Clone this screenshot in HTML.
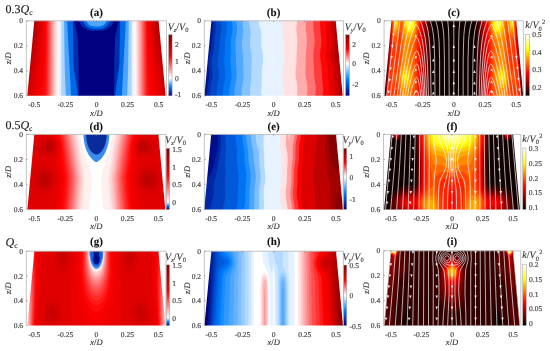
<!DOCTYPE html>
<html><head><meta charset="utf-8"><style>
html,body{margin:0;padding:0;background:#fff;width:550px;height:351px;overflow:hidden}
svg{display:block}
text{font-family:"Liberation Serif","Times New Roman",serif;text-rendering:geometricPrecision}
.t{fill:#474747;stroke:#474747;stroke-width:0.18px}
.l{fill:#333;stroke:#333;stroke-width:0.12px}
.p{fill:#111;stroke:#111;stroke-width:0.1px}
.r{fill:#222;stroke:#222;stroke-width:0.15px}
</style></head><body>
<svg width="550" height="351" viewBox="0 0 550 351">
<clipPath id="cla"><path d="M34.3,20.8 158.6,20.8 165.6,95.8 27.3,95.8 Z"/></clipPath>
<mask id="mcla" maskUnits="userSpaceOnUse" x="0" y="0" width="550" height="351"><path fill="#fff" d="M34.3,20.8 158.6,20.8 165.6,95.8 27.3,95.8 Z"/></mask>
<g mask="url(#mcla)">
<rect x="25.3" y="19.8" width="142.2" height="77" fill="#000080"/>
<path fill-rule="evenodd" fill="#002dac" d="M25.3,19.8 73.8,19.8 73.8,21 75.5,26.8 77.8,36.8 78.5,59.8 78.8,96.8 25.3,96.8 25.3,19.8ZM79.5,19.8 113.4,19.8 113.5,21.3 113,23.3 111.8,25.3 109.3,27.6 106.8,29.2 104.3,30.2 101.3,30.8 98.8,31.1 93.8,31.1 90.8,30.7 88.3,30.1 85.8,29 83.3,27.4 81.5,25.8 80.1,23.8 79.5,21.8 79.5,19.8ZM118.9,19.8 167.3,19.8 167.3,96.8 114,96.8 114.6,51.8 115,39.3 115.3,35.8 117.5,26.3 118.8,21.8 118.9,19.8Z"/>
<path fill-rule="evenodd" fill="#0069e8" d="M25.3,19.8 72.8,19.8 73.2,49.8 73.8,67.9 76.2,83.3 77.7,94.8 77.8,96.8 25.3,96.8 25.3,19.8ZM83.5,19.8 109.4,19.8 109.5,21.3 109,23.3 108.1,24.8 106.6,26.3 104.8,27.5 102.8,28.4 100.3,29 98.3,29.1 94.3,29.1 91.8,28.8 89.8,28.3 87.8,27.3 86.3,26.3 84.8,24.8 83.9,23.3 83.5,21.8 83.5,19.8ZM120.2,19.8 167.3,19.8 167.3,96.8 115.3,96.8 115.3,94 115.9,89.3 117.3,78.9 118.8,69.6 119.3,64.6 120.2,19.8Z"/>
<path fill-rule="evenodd" fill="#4ba5ff" d="M25.3,19.8 67.1,19.8 71.1,96.8 25.3,96.8 25.3,19.8ZM86.8,20.3 86.8,19.8 106.1,19.8 106.2,20.8 105.9,22.3 105,23.8 103.8,24.9 102.3,25.8 100.8,26.3 99.3,26.5 96.3,26.4 94.3,26.5 91.3,26 89.8,25.4 88.8,24.7 87.9,23.8 87.2,22.8 86.8,21.6 86.8,20.3ZM125.9,19.8 167.3,19.8 167.3,96.8 121.8,96.8 125.9,19.8Z"/>
<path fill-rule="evenodd" fill="#abd5ff" d="M25.3,19.8 64.1,19.8 64.7,67.3 65.7,96.8 25.3,96.8 25.3,19.8ZM128.8,19.8 167.3,19.8 167.3,96.8 127.2,96.8 128.2,66.3 128.8,19.8Z"/>
<path fill-rule="evenodd" fill="#e7f3ff" d="M25.3,19.8 61.4,19.8 61.1,96.8 25.3,96.8 25.3,19.8ZM131.5,19.8 167.3,19.8 167.3,96.8 131.8,96.8 131.5,19.8Z"/>
<path fill-rule="evenodd" fill="#fff5f5" d="M25.3,19.8 59.6,19.8 59.1,96.8 25.3,96.8 25.3,19.8ZM133.3,19.8 167.3,19.8 167.3,96.8 133.8,96.8 133.3,19.8Z"/>
<path fill-rule="evenodd" fill="#ffe2e2" d="M25.3,19.8 56.8,19.8 56.5,96.8 25.3,96.8 25.3,19.8ZM136,19.8 167.3,19.8 167.3,96.8 136.4,96.8 136,19.8Z"/>
<path fill-rule="evenodd" fill="#ffcece" d="M25.3,19.8 55.7,19.8 55.4,96.8 25.3,96.8 25.3,19.8ZM137.2,19.8 167.3,19.8 167.3,96.8 137.5,96.8 137.2,19.8Z"/>
<path fill-rule="evenodd" fill="#ffbaba" d="M25.3,19.8 54.6,19.8 54.4,96.8 25.3,96.8 25.3,19.8ZM138.3,19.8 167.3,19.8 167.3,96.8 138.5,96.8 138.3,19.8Z"/>
<path fill-rule="evenodd" fill="#ffa7a7" d="M25.3,19.8 53.5,19.8 53.4,96.8 25.3,96.8 25.3,19.8ZM139.4,19.8 167.3,19.8 167.3,96.8 139.5,96.8 139.4,19.8Z"/>
<path fill-rule="evenodd" fill="#ff9393" d="M25.3,19.8 52.5,19.8 52.5,96.8 25.3,96.8 25.3,19.8ZM140.4,19.8 167.3,19.8 167.3,96.8 140.4,96.8 140.4,19.8Z"/>
<path fill-rule="evenodd" fill="#ff8080" d="M25.3,19.8 51.7,19.8 51.5,96.8 25.3,96.8 25.3,19.8ZM141.2,19.8 167.3,19.8 167.3,96.8 141.4,96.8 141.2,19.8Z"/>
<path fill-rule="evenodd" fill="#ff6c6c" d="M25.3,19.8 50.9,19.8 50.6,96.8 25.3,96.8 25.3,19.8ZM142,19.8 167.3,19.8 167.3,96.8 142.3,96.8 142,19.8Z"/>
<path fill-rule="evenodd" fill="#ff5858" d="M25.3,19.8 50,19.8 49.7,96.8 25.3,96.8 25.3,19.8ZM142.9,19.8 167.3,19.8 167.3,96.8 143.2,96.8 142.9,19.8Z"/>
<path fill-rule="evenodd" fill="#ff4545" d="M25.3,19.8 49.2,19.8 48.7,96.8 25.3,96.8 25.3,19.8ZM143.7,19.8 167.3,19.8 167.3,96.8 144.2,96.8 143.7,19.8Z"/>
<path fill-rule="evenodd" fill="#ff3131" d="M25.3,19.8 48.4,19.8 47.8,96.8 25.3,96.8 25.3,19.8ZM144.5,19.8 167.3,19.8 167.3,96.8 145.1,96.8 144.5,19.8Z"/>
<path fill-rule="evenodd" fill="#ff1d1d" d="M25.3,19.8 47.6,19.8 46.9,96.8 25.3,96.8 25.3,19.8ZM145.3,19.8 167.3,19.8 167.3,96.8 146,96.8 145.3,19.8Z"/>
<path fill-rule="evenodd" fill="#ff0a0a" d="M25.3,19.8 46.7,19.8 46.2,62.8 45.3,96.8 25.3,96.8 25.3,19.8ZM146.2,19.8 167.3,19.8 167.3,96.8 147.6,96.8 146.7,62.8 146.2,19.8Z"/>
<path fill-rule="evenodd" fill="#fa0000" d="M25.3,19.8 45.9,19.8 45.4,49.3 44.8,65.5 43.9,80.8 42.6,96.8 25.3,96.8 25.3,19.8ZM147,19.8 167.3,19.8 167.3,96.8 150.3,96.8 148.8,78.1 147.8,59.3 147,19.8Z"/>
<path fill-rule="evenodd" fill="#f00000" d="M25.3,19.8 44.8,19.8 43.9,43.3 42.6,64.3 41.1,80.3 38.9,95.8 38.9,96.8 25.3,96.8 25.3,19.8ZM148.1,19.8 167.3,19.8 167.3,96.8 154,96.8 154,95.8 152.8,88.3 151.8,80.1 150.3,64 149,43.3 148.1,19.8Z"/>
<path fill-rule="evenodd" fill="#e60000" d="M25.3,19.8 43.4,19.8 42.1,43.3 40.2,64.3 38.1,80.3 36.6,88.3 34.9,95.8 34.9,96.8 25.3,96.8 25.3,19.8ZM149.5,19.8 167.3,19.8 167.3,96.8 158,96.8 158,95.8 156.3,88.4 154.9,80.8 152.7,64.8 150.8,43.8 149.5,19.8Z"/>
<path fill-rule="evenodd" fill="#dd0000" d="M25.3,19.8 42,19.8 40.6,39.3 38.7,57.8 36.7,71.8 34.3,82.9 32.3,95.8 32.3,96.8 25.3,96.8 25.3,19.8ZM150.9,19.8 167.3,19.8 167.3,96.8 160.6,96.8 160.6,95.8 158.8,84.3 156.2,71.8 154.2,57.8 152.3,39.3 150.9,19.8Z"/>
<path fill-rule="evenodd" fill="#d30000" d="M25.3,19.8 40.6,19.8 39.3,35.6 37.5,50.8 36,60.3 34.3,68.8 32.1,82.8 29.8,95.8 29.8,96.8 25.3,96.8 25.3,19.8ZM152.3,19.8 167.3,19.8 167.3,96.8 163.1,96.8 163.1,95.8 158.8,70.1 156.8,59.7 155.4,50.8 153.6,35.8 152.3,19.8Z"/>
<path fill-rule="evenodd" fill="#c90000" d="M25.3,19.8 39.2,19.8 38.1,31.8 36.3,45 31.2,75.3 27.4,95.3 27.3,96.8 25.3,96.8 25.3,19.8ZM153.7,19.8 167.3,19.8 167.3,96.8 165.7,96.8 165.7,95.8 164.6,91.3 162,77.3 156.2,42.3 154.6,29.8 153.7,19.8Z"/>
<path fill-rule="evenodd" fill="#bf0000" d="M25.3,19.8 37.8,19.8 37.2,26.3 35.6,37.3 31.8,60.8 29.3,74.4 25.3,81.6 25.3,19.8ZM155.1,19.8 167.3,19.8 167.3,81.1 163.8,74.8 163.3,72.9 157.2,36.8 155.7,26.3 155.1,19.8Z"/>
<path fill-rule="evenodd" fill="#b50000" d="M25.3,19.8 36.4,19.8 36.4,20.8 35.2,29.3 31.3,52.9 25.3,64.9 25.3,19.8ZM156.5,19.8 167.3,19.8 167.3,64.3 161.8,53.4 161.1,50.3 157.9,30.3 156.5,20.8 156.5,19.8Z"/>
<path fill-rule="evenodd" fill="#ac0000" d="M25.3,19.8 35,19.8 35,20.8 33.3,31.5 29.7,39.8 25.3,48.9 25.3,19.8ZM157.9,19.8 167.3,19.8 167.3,48.3 163.5,40.3 159.8,32 158.3,23.3 157.9,19.8Z"/>
<path fill-rule="evenodd" fill="#a20000" d="M25.3,19.8 31,19.8 31,20.8 25.3,33.5 25.3,19.8ZM161.9,19.8 167.3,19.8 167.3,32.9 161.9,20.8 161.9,19.8Z"/>
</g>

<linearGradient id="cga" x1="0" y1="0" x2="0" y2="1"><stop offset="0.000" stop-color="#800000"/><stop offset="0.025" stop-color="#880000"/><stop offset="0.050" stop-color="#910000"/><stop offset="0.075" stop-color="#9a0000"/><stop offset="0.100" stop-color="#a30000"/><stop offset="0.125" stop-color="#ac0000"/><stop offset="0.150" stop-color="#b50000"/><stop offset="0.175" stop-color="#be0000"/><stop offset="0.200" stop-color="#c70000"/><stop offset="0.225" stop-color="#d00000"/><stop offset="0.250" stop-color="#d90000"/><stop offset="0.275" stop-color="#e20000"/><stop offset="0.300" stop-color="#eb0000"/><stop offset="0.325" stop-color="#f40000"/><stop offset="0.350" stop-color="#fd0000"/><stop offset="0.375" stop-color="#ff0e0e"/><stop offset="0.400" stop-color="#ff2020"/><stop offset="0.425" stop-color="#ff3232"/><stop offset="0.450" stop-color="#ff4444"/><stop offset="0.475" stop-color="#ff5656"/><stop offset="0.500" stop-color="#ff6868"/><stop offset="0.525" stop-color="#ff7a7a"/><stop offset="0.550" stop-color="#ff8c8c"/><stop offset="0.575" stop-color="#ff9e9e"/><stop offset="0.600" stop-color="#ffb0b0"/><stop offset="0.625" stop-color="#ffc2c2"/><stop offset="0.650" stop-color="#ffd4d4"/><stop offset="0.675" stop-color="#ffe6e6"/><stop offset="0.700" stop-color="#fff8f8"/><stop offset="0.725" stop-color="#e5f2ff"/><stop offset="0.750" stop-color="#b9dcff"/><stop offset="0.775" stop-color="#8dc6ff"/><stop offset="0.800" stop-color="#61b0ff"/><stop offset="0.825" stop-color="#359aff"/><stop offset="0.850" stop-color="#0984ff"/><stop offset="0.875" stop-color="#006eee"/><stop offset="0.900" stop-color="#0058d8"/><stop offset="0.925" stop-color="#0042c2"/><stop offset="0.950" stop-color="#002cac"/><stop offset="0.975" stop-color="#001696"/><stop offset="1.000" stop-color="#000080"/></linearGradient><rect x="168.7" y="34.8" width="3.4" height="61" fill="url(#cga)" stroke="#9a9a9a" stroke-width="0.5"/>
<path d="M26.3,95.8V20.8M26.3,20.8H166.5V95.8" fill="none" stroke="#b4b4b4" stroke-width="0.8"/>
<path d="M26.3,20.8h1.4M26.3,45.8h1.4M26.3,70.8h1.4M26.3,95.8h1.4M34.3,20.8v1.4M65.4,20.8v1.4M96.5,20.8v1.4M127.5,20.8v1.4M158.6,20.8v1.4" stroke="#777" stroke-width="0.6"/>
<text class="t" x="23" y="23.4" font-size="7.5" text-anchor="end">0</text>
<text class="t" x="23" y="48.4" font-size="7.5" text-anchor="end">0.2</text>
<text class="t" x="23" y="73.4" font-size="7.5" text-anchor="end">0.4</text>
<text class="t" x="23" y="98.4" font-size="7.5" text-anchor="end">0.6</text>
<text class="t" x="34.3" y="106.9" font-size="7.5" text-anchor="middle">-0.5</text>
<text class="t" x="65.4" y="106.9" font-size="7.5" text-anchor="middle">-0.25</text>
<text class="t" x="96.5" y="106.9" font-size="7.5" text-anchor="middle">0</text>
<text class="t" x="127.5" y="106.9" font-size="7.5" text-anchor="middle">0.25</text>
<text class="t" x="158.6" y="106.9" font-size="7.5" text-anchor="middle">0.5</text>
<text class="l" x="96.5" y="115.6" font-size="8.5" text-anchor="middle"><tspan font-style="italic">x</tspan>/<tspan font-style="italic">D</tspan></text>
<text class="l" transform="translate(10.8,58.3) rotate(-90)" font-size="8.5" text-anchor="middle" x="0" y="0"><tspan font-style="italic">z</tspan>/<tspan font-style="italic">D</tspan></text>
<text class="p" x="96.5" y="15.6" font-size="11" text-anchor="middle" font-weight="bold">(a)</text>
<text class="l" x="167.7" y="29.5" font-size="10" text-anchor="start"><tspan font-style="italic">V</tspan><tspan font-size="6.5" dy="2.2" font-style="italic">z</tspan><tspan dy="-2.2">/</tspan><tspan font-style="italic">V</tspan><tspan font-size="6.5" dy="2.2">0</tspan></text>
<text class="t" x="174.9" y="47.1" font-size="7.5" text-anchor="start">2</text>
<text class="t" x="174.9" y="63.9" font-size="7.5" text-anchor="start">1</text>
<text class="t" x="174.9" y="80.6" font-size="7.5" text-anchor="start">0</text>
<text class="t" x="174.9" y="97.2" font-size="7.5" text-anchor="start">-1</text>
<clipPath id="clb"><path d="M211.4,20.8 335.7,20.8 342.7,95.8 204.4,95.8 Z"/></clipPath>
<mask id="mclb" maskUnits="userSpaceOnUse" x="0" y="0" width="550" height="351"><path fill="#fff" d="M211.4,20.8 335.7,20.8 342.7,95.8 204.4,95.8 Z"/></mask>
<g mask="url(#mclb)">
<rect x="203.3" y="19.8" width="141.2" height="77" fill="#000080"/>
<path fill-rule="evenodd" fill="#001594" d="M210.3,19.8 344.3,19.8 344.3,96.8 204,96.8 204.8,90.3 205,86.3 206.3,77.8 206.4,72.8 206.3,69 205.9,65.8 205.9,60.8 206.5,57.3 207.8,52.5 208.8,47.8 209.3,42.9 209.5,37.8 210,33.3 210.3,31.8 210.6,26.8 210.3,19.8Z"/>
<path fill-rule="evenodd" fill="#002dad" d="M212.6,19.8 344.3,19.8 344.3,96.8 206.7,96.8 207.8,85.8 209,78.3 209.2,75.8 209.2,71.8 208.5,64.3 208.6,60.8 209.1,57.8 211.1,47.8 211.9,38.3 213,28.8 213,24.3 212.6,19.8Z"/>
<path fill-rule="evenodd" fill="#0046c5" d="M215.2,19.8 344.3,19.8 344.3,96.8 209.7,96.8 210.8,86.3 212.1,79.3 212.5,75.8 212.5,72.8 211.6,64.8 211.6,61.3 211.8,58.7 213.7,49.3 214.8,36.3 215.7,30.3 215.7,24.3 215.2,19.8Z"/>
<path fill-rule="evenodd" fill="#005fde" d="M220.6,19.8 344.3,19.8 344.3,96.8 216.3,96.8 216.9,88.3 218.5,79.8 218.9,76.3 218.9,72.8 217.9,65.3 217.8,61.3 218,58.3 219.1,49.8 219.9,39.8 221.3,29.3 221.3,25.3 220.6,19.8Z"/>
<path fill-rule="evenodd" fill="#0077f7" d="M226.1,19.8 344.3,19.8 344.3,96.8 222.7,96.8 222.8,92.3 223.1,88.8 224.9,79.8 225.3,76.3 225.2,72.8 224.3,65.3 224.1,61.3 224.8,51.8 225.2,41.3 226.6,32.3 226.9,29.3 226.8,25.3 226.1,19.8Z"/>
<path fill-rule="evenodd" fill="#2190ff" d="M231.6,19.8 344.3,19.8 344.3,96.8 229.3,96.8 229.1,92.8 229.4,88.8 231.3,79.3 231.6,75.8 231.5,72.8 230.7,64.8 230.5,61.3 230.8,53.3 230.7,42.8 231,39.3 232.3,32.3 232.5,29.3 232.3,25.8 231.6,19.8Z"/>
<path fill-rule="evenodd" fill="#52a9ff" d="M236.2,19.8 344.3,19.8 344.3,96.8 234.7,96.8 234.4,92.8 234.5,89.8 234.8,87.2 236.1,80.8 236.7,75.8 236.6,72.3 236,64.3 235.9,54.8 235.3,44.8 235.8,38.8 236.6,34.3 237.1,30.3 237,26.8 236.2,19.8Z"/>
<path fill-rule="evenodd" fill="#84c1ff" d="M242.1,19.8 344.3,19.8 344.3,96.8 242.1,96.8 241.7,93.3 241.7,89.8 243.2,80.3 243.6,74.8 243.3,66.8 243.2,56.3 242.2,47.3 242,43.8 242.3,39.8 243.2,33.3 243.3,30.3 242.1,19.8Z"/>
<path fill-rule="evenodd" fill="#b5daff" d="M249,19.8 344.3,19.8 344.3,96.8 250.6,96.8 250.1,93.8 250,90.3 250.3,86.8 251.2,79.3 251.4,68.8 251.8,58.8 251.6,54.8 250.3,47.6 250,44.3 250.1,40.8 250.7,34.3 250.7,31.3 250.4,28.8 249.2,22.8 249,19.8Z"/>
<path fill-rule="evenodd" fill="#e6f3ff" d="M258.7,19.8 344.3,19.8 344.3,96.8 261.8,96.8 261.3,92.8 261.3,90.3 261.7,82.3 261.8,71.3 263,61.3 263.1,57.3 262.7,53.3 261.3,45.8 261.2,41.8 261.4,35.3 261.2,32.3 260.6,29.3 258.8,23.3 258.6,21.3 258.7,19.8Z"/>
<path fill-rule="evenodd" fill="#ffe3e3" d="M283,19.8 344.3,19.8 344.3,96.8 283.8,96.8 283.8,86.4 282.6,77.3 282.4,74.3 282.5,70.8 283.8,63.3 284.2,57.8 283.8,47.3 283.7,39.3 282.4,26.8 282.5,23.3 283,19.8Z"/>
<path fill-rule="evenodd" fill="#ffacac" d="M297.4,19.8 344.3,19.8 344.3,96.8 296.9,96.8 297.4,91.3 297.4,87.3 297.3,85.3 295.7,76.3 295.5,72.8 296.5,62.3 296.7,51.8 297.4,42.8 297.3,38.3 296.6,32.8 296.4,29.3 296.5,26.8 297.4,19.8Z"/>
<path fill-rule="evenodd" fill="#ff7474" d="M306.2,19.8 344.3,19.8 344.3,96.8 306.5,96.8 307.3,91.8 307.4,87.8 307.1,84.8 305.7,76.8 305.4,72.8 305.7,64.3 305.7,53.8 306.8,44 306.9,41.3 306.8,38.1 305.7,29.3 305.7,26.3 306.2,19.8Z"/>
<path fill-rule="evenodd" fill="#ff3c3c" d="M313.4,19.8 344.3,19.8 344.3,96.8 314.9,96.8 315.7,91.8 315.8,88.3 315.5,84.8 314.2,75.8 313.9,65.8 313.2,57.3 313.4,52.3 314.4,45.3 314.7,41.3 314.5,37.8 313.4,28.8 313.4,19.8Z"/>
<path fill-rule="evenodd" fill="#ff0505" d="M319.9,19.8 344.3,19.8 344.3,96.8 322.4,96.8 323.1,92.3 323.2,88.3 322.1,77.8 321.6,68.3 320.1,56.8 320.1,52.8 321.2,44.8 321.4,41.3 321.2,38.3 320.2,28.8 319.9,19.8Z"/>
<path fill-rule="evenodd" fill="#e60000" d="M325.5,19.8 344.3,19.8 344.3,96.8 328.9,96.8 329.4,93.3 329.5,89.3 328.7,78.8 328.3,70.8 327.8,66.8 326.2,58.8 325.9,55.8 326,52.3 326.8,44.8 326.9,41.3 326,30.8 325.5,19.8Z"/>
<path fill-rule="evenodd" fill="#ca0000" d="M330.1,19.8 344.3,19.8 344.3,96.8 334.5,96.8 334.8,93.8 334.8,90.3 334.1,80.8 333.8,70.8 333.3,67.6 331.4,59.8 330.8,55.8 330.8,52.3 331.3,46.3 331.4,41.8 330.7,31.3 330.5,23.8 330.1,19.8Z"/>
<path fill-rule="evenodd" fill="#ae0000" d="M333.8,19.8 344.3,19.8 344.3,96.8 339,96.8 339.2,91.8 338.4,81.8 338.4,74.3 338.2,70.8 337.6,67.3 335.3,58.8 334.8,55.3 335.1,42.8 334.5,33.3 334.3,24.3 333.8,19.8Z"/>
<path fill-rule="evenodd" fill="#900000" d="M338.1,19.8 344.3,19.8 344.3,96.8 344,96.8 344,92.8 343.3,83.8 343.4,74.3 343.2,70.8 342.5,67.3 340.3,59.3 339.7,55.3 339.5,44.8 338.8,34.3 338.7,24.8 338.1,19.8Z"/>
</g>

<linearGradient id="cgb" x1="0" y1="0" x2="0" y2="1"><stop offset="0.000" stop-color="#800000"/><stop offset="0.025" stop-color="#8d0000"/><stop offset="0.050" stop-color="#9b0000"/><stop offset="0.075" stop-color="#a80000"/><stop offset="0.100" stop-color="#b60000"/><stop offset="0.125" stop-color="#c30000"/><stop offset="0.150" stop-color="#d10000"/><stop offset="0.175" stop-color="#de0000"/><stop offset="0.200" stop-color="#ec0000"/><stop offset="0.225" stop-color="#fa0000"/><stop offset="0.250" stop-color="#ff1010"/><stop offset="0.275" stop-color="#ff2b2b"/><stop offset="0.300" stop-color="#ff4646"/><stop offset="0.325" stop-color="#ff6262"/><stop offset="0.350" stop-color="#ff7d7d"/><stop offset="0.375" stop-color="#ff9898"/><stop offset="0.400" stop-color="#ffb3b3"/><stop offset="0.425" stop-color="#ffcece"/><stop offset="0.450" stop-color="#ffe9e9"/><stop offset="0.475" stop-color="#fafdff"/><stop offset="0.500" stop-color="#e2f1ff"/><stop offset="0.525" stop-color="#cae5ff"/><stop offset="0.550" stop-color="#b2d9ff"/><stop offset="0.575" stop-color="#9acdff"/><stop offset="0.600" stop-color="#82c0ff"/><stop offset="0.625" stop-color="#6ab4ff"/><stop offset="0.650" stop-color="#52a8ff"/><stop offset="0.675" stop-color="#3a9cff"/><stop offset="0.700" stop-color="#2290ff"/><stop offset="0.725" stop-color="#0a84ff"/><stop offset="0.750" stop-color="#0078f8"/><stop offset="0.775" stop-color="#006cec"/><stop offset="0.800" stop-color="#0060e0"/><stop offset="0.825" stop-color="#0054d4"/><stop offset="0.850" stop-color="#0048c8"/><stop offset="0.875" stop-color="#003cbc"/><stop offset="0.900" stop-color="#0030b0"/><stop offset="0.925" stop-color="#0024a4"/><stop offset="0.950" stop-color="#001898"/><stop offset="0.975" stop-color="#000c8c"/><stop offset="1.000" stop-color="#000080"/></linearGradient><rect x="345.7" y="34.8" width="3.7" height="61" fill="url(#cgb)" stroke="#9a9a9a" stroke-width="0.5"/>
<path d="M204.3,95.8V20.8M204.3,20.8H343.5V95.8" fill="none" stroke="#b4b4b4" stroke-width="0.8"/>
<path d="M204.3,20.8h1.4M204.3,45.8h1.4M204.3,70.8h1.4M204.3,95.8h1.4M211.4,20.8v1.4M242.5,20.8v1.4M273.6,20.8v1.4M304.6,20.8v1.4M335.7,20.8v1.4" stroke="#777" stroke-width="0.6"/>
<text class="t" x="201" y="23.4" font-size="7.5" text-anchor="end">0</text>
<text class="t" x="201" y="48.4" font-size="7.5" text-anchor="end">0.2</text>
<text class="t" x="201" y="73.4" font-size="7.5" text-anchor="end">0.4</text>
<text class="t" x="201" y="98.4" font-size="7.5" text-anchor="end">0.6</text>
<text class="t" x="211.4" y="106.9" font-size="7.5" text-anchor="middle">-0.5</text>
<text class="t" x="242.5" y="106.9" font-size="7.5" text-anchor="middle">-0.25</text>
<text class="t" x="273.6" y="106.9" font-size="7.5" text-anchor="middle">0</text>
<text class="t" x="304.6" y="106.9" font-size="7.5" text-anchor="middle">0.25</text>
<text class="t" x="335.7" y="106.9" font-size="7.5" text-anchor="middle">0.5</text>
<text class="l" x="273.6" y="115.6" font-size="8.5" text-anchor="middle"><tspan font-style="italic">x</tspan>/<tspan font-style="italic">D</tspan></text>
<text class="l" transform="translate(189.9,58.3) rotate(-90)" font-size="8.5" text-anchor="middle" x="0" y="0"><tspan font-style="italic">z</tspan>/<tspan font-style="italic">D</tspan></text>
<text class="p" x="273.6" y="15.6" font-size="11" text-anchor="middle" font-weight="bold">(b)</text>
<text class="l" x="344.7" y="29.5" font-size="10" text-anchor="start"><tspan font-style="italic">V</tspan><tspan font-size="6.5" dy="2.2" font-style="italic">y</tspan><tspan dy="-2.2">/</tspan><tspan font-style="italic">V</tspan><tspan font-size="6.5" dy="2.2">0</tspan></text>
<text class="t" x="352.2" y="46.5" font-size="7.5" text-anchor="start">2</text>
<text class="t" x="352.2" y="66.1" font-size="7.5" text-anchor="start">0</text>
<text class="t" x="352.2" y="86.6" font-size="7.5" text-anchor="start">-2</text>
<clipPath id="clc"><path d="M391.4,20.8 516.2,20.8 523.2,95.8 384.4,95.8 Z"/></clipPath>
<mask id="mclc" maskUnits="userSpaceOnUse" x="0" y="0" width="550" height="351"><path fill="#fff" d="M391.4,20.8 516.2,20.8 523.2,95.8 384.4,95.8 Z"/></mask>
<g mask="url(#mclc)">
<rect x="383.1" y="19.8" width="141.2" height="77" fill="#0f0000"/>
<path fill-rule="evenodd" fill="#2c0000" d="M383.1,19.8 431.3,19.8 431.3,96.8 384.9,96.8 386.6,67.9 386.7,60.3 386.6,57.8 386.3,57.3 386.1,57 385.6,58.3 384.4,63.8 383.1,72.3 383.1,19.8ZM476.3,19.8 524.1,19.8 524.1,69.6 522.6,60.9 521.6,57.2 521.1,57.3 520.9,60.8 521.1,70.1 522.7,96.8 476.3,96.8 476.3,19.8Z"/>
<path fill-rule="evenodd" fill="#4a0000" d="M383.1,19.8 429.5,19.8 429.5,96.8 385.2,96.8 387.1,66 387.5,52.3 387.1,48.3 386.6,48.2 386.1,49.2 385.3,51.8 383.6,59.2 383.1,63 383.1,19.8ZM478.1,19.8 524.1,19.8 524.1,59.8 522.3,51.8 521.1,48.3 520.6,48.1 520.1,52 520.1,57.3 520.6,67.8 522.4,96.8 478.1,96.8 478.1,19.8Z"/>
<path fill-rule="evenodd" fill="#670000" d="M383.1,19.8 427.9,19.8 427.9,96.8 385.4,96.8 387.7,61.3 388.2,51.3 388.2,43.8 388,40.8 387,36.3 386.8,34.3 386.9,26.3 387.2,23.8 387.1,21 383.1,21 383.1,19.8ZM479.7,19.8 524.1,19.8 524.1,20.9 520.6,21 520.5,24.8 520.7,28.3 520.8,34.8 520.5,36.8 519.6,40.4 519.4,44.3 519.4,51.8 519.9,61.3 522.2,96.8 479.7,96.8 479.7,19.8Z"/>
<path fill-rule="evenodd" fill="#850000" d="M388.3,19.8 426.5,19.8 426.5,96.8 385.7,96.8 388.1,61.5 388.9,46.8 389,38.3 388.4,27.3 388.3,19.8ZM481.1,19.8 519.3,19.8 519.2,27.3 518.6,38.3 518.7,46.8 519.6,62.3 521.9,96.8 481.1,96.8 481.1,19.8Z"/>
<path fill-rule="evenodd" fill="#a30000" d="M389.2,19.8 425.1,19.8 425.1,96.8 385.9,96.8 388.4,62.3 389.4,45.3 389.7,33.8 389.2,19.8ZM482.5,19.8 518.4,19.8 518,33.8 518.2,44.8 519,59.8 521.7,96.8 482.5,96.8 482.5,19.8Z"/>
<path fill-rule="evenodd" fill="#c00000" d="M390.1,19.8 423.8,19.8 423.7,96.8 386.2,96.8 388.8,61.8 389.8,45.3 390.2,32.3 390.1,19.8ZM483.8,19.8 517.5,19.8 517.4,32.3 517.8,45.3 518.8,62.3 521.4,96.8 483.9,96.8 483.8,19.8Z"/>
<path fill-rule="evenodd" fill="#de0000" d="M390.8,19.8 422.5,19.8 422.3,43.3 422.3,96.8 386.5,96.8 389.3,60.8 390.3,45.3 390.7,34.3 390.8,19.8ZM485.1,19.8 516.8,19.8 516.9,34.8 517.3,45.8 521.1,96.8 485.3,96.8 485.3,43.3 485.1,19.8Z"/>
<path fill-rule="evenodd" fill="#fb0000" d="M391.4,19.8 421.3,19.8 420.8,44.3 420.6,96.8 386.9,96.8 390.8,45.3 391.2,36.3 391.4,19.8ZM486.3,19.8 516.2,19.8 516.4,36.3 516.8,45.8 520.7,96.8 487,96.8 486.8,44.3 486.3,19.8Z"/>
<path fill-rule="evenodd" fill="#ff1a00" d="M391.9,19.8 420.1,19.8 420,25.8 419.2,38.3 419,44.8 418.6,96.8 387.4,96.8 391.3,45.8 391.7,37.8 391.9,19.8ZM487.5,19.8 515.7,19.8 515.9,38.3 516.3,46.3 520.2,96.8 489,96.8 488.6,44.8 488.4,38.3 487.6,26.3 487.5,19.8Z"/>
<path fill-rule="evenodd" fill="#ff3700" d="M392.4,19.8 419.1,19.8 418.8,26.8 417.5,39.3 417.1,45.8 417,60.3 417.1,77.3 416.6,96.8 388.1,96.8 388.1,94.6 389.9,74.8 391.8,49.3 392.2,40.8 392.2,27.3 392.4,19.8ZM488.5,19.8 515.2,19.8 515.4,27.3 515.4,39.8 515.8,50.3 519.6,96.8 491,96.8 490.5,77.3 490.6,60.8 490.5,45.8 490.1,39.3 488.8,26.8 488.5,19.8Z"/>
<path fill-rule="evenodd" fill="#ff5500" d="M392.8,19.8 418.2,19.8 417.8,27.3 415.9,39.8 415.3,46.3 415.1,60.8 415.5,77.3 414.6,96.8 397.9,96.8 397.9,90.3 397.4,83.3 397.1,80.7 396.1,79.3 395.6,79.3 395.1,80 394.1,83 393.1,88.1 392.7,88.3 392.6,92.1 392.5,90.8 392.8,87.8 393,78.3 393.8,69.8 394.4,66.3 394.6,62.6 394.9,70.3 395.1,72.3 395.6,74.4 396.1,74.9 396.6,74.6 397.6,73.4 398.1,71.7 399.4,63.8 399.9,58.8 400.5,47.8 400.7,39.3 400.6,34.3 400.1,31.1 396.6,44.3 395.9,47.3 395.6,50.4 395.1,44.8 393.4,38.8 393,36.8 392.6,28.8 392.8,19.8ZM489.4,19.8 514.8,19.8 515,28.3 514.6,36.8 514.1,39.4 512.5,44.8 512.3,46.8 512.1,51.5 511.8,47.8 507.6,31.6 507.1,32.8 507,34.3 506.9,42.8 507.6,57.3 508.2,63.3 509.6,72.4 510.1,73.5 511.1,74.7 511.6,74.9 512.1,74.1 512.7,70.8 513.1,63.6 514.3,74.8 514.8,81.3 514.9,86.3 514.6,88.8 513.6,83.4 512.6,80.2 512.1,79.4 511.6,79.2 510.5,80.8 510.1,83 509.8,88.8 509.7,96.8 493,96.8 492.1,77.3 492.5,60.3 492.3,46.3 491.7,39.8 489.8,27.3 489.4,19.8ZM395.1,56.3 395.1,56.6 395.1,56.3ZM512.6,57.8 512.6,58.3 512.6,57.8ZM515.1,90.8 515.1,93 515.1,90.8Z"/>
<path fill-rule="evenodd" fill="#ff7300" d="M393.2,19.8 400.2,19.8 399.9,24.8 398.9,30.3 397.4,34.8 396.6,36.5 396.1,36.9 395.1,36.4 394.6,35.8 393.9,34.3 393.4,32.3 393,27.3 393.2,19.8ZM401.9,19.8 417.4,19.8 417.3,23.8 416.8,28.3 413.5,43.8 412.9,48.8 412.7,54.3 412.7,59.3 413.9,70.8 414.1,77.3 413.6,84.3 412.4,92.3 412,96.8 400,96.8 399.9,91.8 398.9,82.8 398.7,78.3 399.2,72.8 401.5,61.3 402.1,54.3 402.5,40.3 401.8,25.3 401.9,19.8ZM490.2,19.8 505.7,19.8 505.8,24.8 505.1,40.3 505.6,54.8 506.2,61.8 508.4,72.8 508.9,78.3 508.7,82.8 507.7,91.8 507.6,96.8 495.6,96.8 495.2,92.3 494,84.3 493.5,77.3 493.7,70.8 494.9,59.3 494.9,54.3 494.7,48.8 494.1,43.8 490.8,28.3 490.3,23.8 490.2,19.8ZM507.4,19.8 514.4,19.8 514.5,27.8 514.2,32.8 513.6,34.6 513.1,35.6 512.6,36.3 511.6,36.9 511.1,36.7 510.2,34.8 508.7,30.3 507.8,25.3 507.4,19.8Z"/>
<path fill-rule="evenodd" fill="#ff9000" d="M393.6,19.8 399.4,19.8 399.2,23.8 398.4,28.3 397.1,32.1 396.6,33.1 396.1,33.3 395.6,33.2 395.1,32.9 394.6,32.2 393.7,29.3 393.4,25.8 393.6,19.8ZM403.1,19.8 416.7,19.8 416.4,25.8 415.2,31.8 414.1,35.4 411.3,40.8 410.4,42.8 409.7,45.3 409.3,47.8 408.8,53.3 409.2,59.3 409.8,62.3 412.1,71.3 412.5,74.3 412.6,77.3 412.4,80.3 411.8,83.3 408.9,92.3 408,96.8 402.1,96.8 401.7,91.3 400.3,83.8 399.9,80.3 399.9,77.3 400.2,73.8 400.9,70.8 403,62.8 404,55.8 404.3,45.3 404,38.3 403.1,27.3 403.1,19.8ZM490.9,19.8 504.5,19.8 504.5,26.8 503.5,40.8 503.3,50.8 503.6,52.1 503.8,57.3 504.4,61.3 507.1,72.3 507.6,75.3 507.7,78.3 507.5,82.3 506,90.8 505.4,96.8 499.6,96.8 498.9,92.8 496.4,85.3 495.5,81.8 495,77.8 495.1,74.3 495.8,69.8 497.7,62.8 498.3,59.8 498.7,54.8 498.4,48.8 497.9,45.3 497.2,42.8 496.3,40.8 493.6,35.6 492.3,31.3 491.2,25.8 490.9,19.8ZM508.2,19.8 514,19.8 514.1,28.3 513.7,30.3 513.2,31.8 512.6,32.8 512.1,33.2 511.6,33.3 511.1,33.1 510.4,31.8 509.6,29.7 508.5,24.3 508.2,19.8Z"/>
<path fill-rule="evenodd" fill="#ffae00" d="M394,19.8 398.7,19.8 398.5,23.3 397.9,26.8 397.1,29.4 396.6,30.3 396.1,30.6 395.6,30.5 395.1,30 394.6,29 394.2,27.3 393.9,24.3 394,19.8ZM403.9,19.8 416,19.8 416,22.8 415.6,26.3 415,29.3 414.1,32.1 412.1,35.4 410.1,37.5 409.1,38.2 407.6,37.4 406.5,36.3 405.2,34.3 404.7,32.8 404,26.3 403.9,19.8ZM491.6,19.8 503.7,19.8 503.5,27.8 503.1,31.7 502.6,33.8 501.8,35.3 500.6,36.8 499.6,37.6 498.6,38.2 498.1,38.1 496.1,36.1 494.6,34.1 493.6,32.3 492.8,29.8 492,26.3 491.7,23.3 491.6,19.8ZM508.9,19.8 513.6,19.8 513.7,24.3 513.4,27.3 513.1,28.8 512.6,29.9 512.1,30.4 511.6,30.6 511.1,30.4 510.6,29.7 509.7,26.8 509.1,23.3 508.9,19.8ZM404.6,66.3 406.6,66.1 407.6,66.4 408.6,66.9 409.6,69.1 410.4,71.3 410.8,73.3 411.1,75.8 411,78.3 410.7,80.3 410.1,82.8 409.3,84.8 408.1,87.1 407.1,87.7 405.6,88 404.1,87.9 402.6,87.3 401.4,82.8 401,79.3 401.1,75.3 402,71.3 403.6,66.7 404.6,66.3ZM500.2,66.3 502.1,66.1 504.1,66.8 505.6,71.1 506.4,74.8 506.6,79.3 506.4,81.8 505.8,84.3 505.1,87 504.6,87.5 503.1,88 501.1,87.9 499.6,87.3 497.7,83.3 496.7,79.3 496.6,75.3 497.2,71.3 498.1,68.8 499.1,66.8 500.2,66.3Z"/>
<path fill-rule="evenodd" fill="#ffcb00" d="M394.5,19.8 398.1,19.8 398,22.3 397.5,25.3 397.1,26.9 396.6,27.8 396.1,28 395.6,27.9 395.2,27.3 394.7,25.8 394.5,23.3 394.5,19.8ZM404.7,19.8 415.4,19.8 415.1,24.8 414.1,29.3 413.1,31.4 412.1,32.8 411.1,33.8 409.6,34.7 409.1,34.7 408.6,34.4 407.1,33 406.1,31.3 405.3,29.3 404.7,25.3 404.7,19.8ZM492.2,19.8 502.9,19.8 502.9,25.3 502.4,28.8 501.7,30.8 500.9,32.3 499.8,33.8 498.6,34.7 498.1,34.8 497.6,34.5 496.1,33.4 494.6,31.5 493.6,29.6 492.9,27.3 492.5,24.8 492.2,19.8ZM509.5,19.8 513.1,19.8 513.1,23.3 512.9,25.8 512.4,27.3 512.1,27.8 511.6,28.1 511.1,27.9 510.6,27.1 510.1,25.5 509.6,22.6 509.5,19.8ZM404.4,70.3 405.1,70 406.1,69.9 407.1,70.1 408.1,70.8 408.6,71.4 408.9,72.3 409.5,75.3 409.5,78.8 408.6,82 408.1,83 407.6,83.4 406.6,84 405.6,84.2 404.1,83.9 403.1,83.3 402.6,82.3 402.1,79.3 402.1,76.3 402.6,73.3 403.1,71.6 403.6,70.8 404.4,70.3ZM500.2,70.3 501.1,70 502.1,69.9 503.1,70.2 504.1,70.9 504.6,71.9 505.3,74.8 505.5,78.3 505.1,81.9 504.6,83.2 503.6,83.9 502.6,84.2 501.1,84 499.6,83.1 498.7,81.3 498.2,79.3 498,76.3 498.3,73.8 499.1,71.2 500.2,70.3Z"/>
<path fill-rule="evenodd" fill="#ffe900" d="M395.3,19.8 397.4,19.8 397.4,21.3 397.1,23.7 396.6,24.9 396.1,25.2 395.6,24.6 395.3,23.3 395.3,19.8ZM405.5,19.8 414.8,19.8 414.6,23.9 414.2,26.3 413.7,27.8 412.1,30.6 411.1,31.6 410.1,32.2 409.6,32.3 408.6,31.8 407.6,30.7 406.6,28.7 406,26.8 405.6,24.8 405.5,19.8ZM492.8,19.8 502.1,19.8 502,24.3 501.3,27.8 500.6,29.6 499.9,30.8 499.1,31.7 498.1,32.3 497.1,32 496.1,31.2 495.1,30.1 494.1,28.2 493.1,24.6 492.8,19.8ZM510.1,19.8 512.3,19.8 512.3,23.3 512.1,24.3 511.6,25.1 511.1,25 510.6,24 510.2,21.3 510.1,19.8ZM404.6,74.3 405.6,73.8 406.6,74.1 407.3,74.8 407.8,76.3 407.7,77.8 407.1,79.3 406.6,79.9 405.6,80.3 404.6,79.9 404.1,79.4 403.6,77.8 403.8,75.8 404.6,74.3ZM500.7,74.3 501.6,73.8 502.6,74 503.4,74.8 503.8,75.8 504.1,77.3 503.9,78.3 503.6,79.3 502.6,80.2 502.1,80.3 501.1,80 500.5,79.3 500,78.3 499.8,76.3 500.1,75.2 500.7,74.3Z"/>
<path fill-rule="evenodd" fill="#ffff0b" d="M406.4,19.8 414.1,19.8 414,23.3 413.1,26.7 412.6,27.8 411.6,29.1 410.1,30.1 409.6,30.2 408.6,29.5 407.8,28.3 407.2,26.8 406.5,23.8 406.4,19.8ZM493.5,19.8 501.2,19.8 501.1,23.3 500.6,26.3 499.6,28.6 499.1,29.3 498.1,30.2 497.1,30 496.1,29.2 495.1,27.9 494.6,26.9 493.6,23.3 493.5,19.8Z"/>
<path fill-rule="evenodd" fill="#ffff37" d="M407.3,19.8 413.3,19.8 413.3,22.3 412.8,24.8 411.8,26.8 410.6,27.9 409.6,28.1 408.8,27.3 408.1,26 407.4,23.3 407.3,19.8ZM494.2,19.8 500.3,19.8 500.3,22.3 499.9,24.8 499.1,26.9 498.1,28.1 497.6,28.1 496.6,27.7 495.8,26.8 495.2,25.8 494.4,22.8 494.2,19.8Z"/>
<path fill-rule="evenodd" fill="#ffff64" d="M408.3,19.8 412.4,19.8 412.4,21.8 411.9,23.8 411.1,25.3 410.1,25.9 409.6,25.8 409.1,25.1 408.6,23.8 408.3,21.8 408.3,19.8ZM495.2,19.8 499.3,19.8 499.1,23.3 498.6,24.8 498.1,25.7 497.6,25.9 497.1,25.7 496.6,25.4 495.9,24.3 495.3,22.3 495.2,19.8Z"/>
<path fill-rule="evenodd" fill="#ffff90" d="M409.9,19.8 410.6,19.8 410.8,20.3 410.6,21.8 410.1,22.2 409.7,21.3 409.9,19.8ZM497,19.8 497.7,19.8 497.9,21.3 497.6,22.2 497.1,22 496.8,21.3 497,19.8Z"/>
</g>
<g clip-path="url(#clc)" fill="none" stroke="#fff" stroke-width="0.75" stroke-opacity="0.9">
<path d="M447.6,19.8 448.5,28.9 448.9,41.2 449.2,96.8M522.2,19.8 524.2,39.9M383.1,43.3 385.4,19.8M458.4,96.8 458.7,41.2 459.1,28.9 460,19.8M441.4,19.8 442.4,24 443.1,28.9 443.7,34.5 444,41.5 444.4,59.4 444.5,96.8M517.4,19.8 524.2,85.9M383.1,89.3 390.2,19.8M463.1,96.8 463.2,59.4 463.6,41.5 463.9,34.5 464.5,28.9 465.2,24 466.2,19.8M435.4,19.8 436.8,24.4 437.8,29.3 438.5,34.9 439.1,41.9 439.6,59.7 439.7,96.8M512.5,19.8 520.9,96.8M386.7,96.8 395.1,19.8M467.9,96.8 468,59.7 468.5,41.9 469.1,34.9 469.8,29.3 470.8,24.4 472.2,19.8M430,19.8 431.5,24.7 432.7,30 433.5,35.9 434.1,42.6 434.7,60.4 435,96.8M507.4,19.8 516.1,86 517.3,96.8M390.3,96.8 391.5,86 400.2,19.8M472.6,96.8 472.9,60.4 473.5,42.6 474.1,35.9 474.9,30 476.1,24.7 477.6,19.8M425.1,19.8 426.7,25.4 428,31 428.9,37 429.6,44 430.5,62.5 431.1,96.8M502,19.8 504.3,31 506.4,44 513.8,96.8M393.8,96.8 401.2,44 403.3,31 405.6,19.8M476.5,96.8 477.1,62.5 478,44 478.7,37 479.6,31 480.9,25.4 482.5,19.8M420,19.8 422,25.1 423.7,31 425,37.3 426,45 426.8,53.4 427.5,64.3 428.5,96.8M496.6,19.8 500.1,32.4 503.1,46.8 506.2,66 510.6,96.8M397,96.8 401.4,66 404.5,46.8 407.5,32.4 411,19.8M479.1,96.8 480.1,64.3 480.8,53.4 481.6,45 482.6,37.3 483.9,31 485.6,25.1 487.6,19.8M399.8,96.8 404.3,67.4 406.2,56.6 408,47.8 410.1,39.4 412.5,31.4 414.6,26 415.3,24.9 416,24.6 416.7,25 417.8,26.6 419,29.3 420.2,32.4 422,39 423.3,46.4 424.3,55.2 425.2,66 426,79.7 426.6,96.8M481,96.8 481.6,79.7 482.4,66 483.3,55.2 484.3,46.4 485.7,39 487.4,32.4 488.6,29.3 489.9,26.6 490.9,25 491.6,24.6 492.3,24.9 493,26 495.1,31.4 497.5,39.4 499.6,47.8 501.4,56.6 503.3,67.4 507.8,96.8M402.4,96.8 406.2,73 408,63.8 409.7,55.9 411.6,48.9 413.6,42.8 415.3,38.9 416,38 416.7,37.7 417.4,38.2 418.1,39.3 419.5,43.1 420.9,48.9 422.1,55.9 423,63.2 423.8,72.7 425.1,96.8M482.5,96.8 483.8,72.7 484.6,63.2 485.5,55.9 486.7,48.9 488.1,43.1 489.5,39.3 490.2,38.2 490.9,37.7 491.6,38 492.3,38.9 494.1,42.8 496,48.9 497.9,55.9 499.7,63.8 501.4,73 505.2,96.8M404.8,96.8 408,78.7 411.1,64.5 412.8,58.7 414.3,54.6 415.7,51.8 416.7,50.9 417.1,51 417.8,51.7 418.8,54.2 419.9,58.4 420.9,64.3 422.6,79.3 423.7,96.8M483.9,96.8 485,79.3 486.7,64.3 487.8,58.4 488.8,54.2 489.9,51.7 490.6,51 490.9,50.9 492,51.8 493.4,54.6 494.8,58.7 496.5,64.5 499.7,78.7 502.8,96.8M407.3,96.8 409.7,84.1 412.4,73.4 414.6,66.9 415.7,65 416.7,64.1 417.4,64.4 418.2,66 419.1,69.5 419.9,73.2 421.2,83.9 422.4,96.8M485.2,96.8 486.4,83.9 487.8,73.2 488.5,69.5 489.4,66 490.2,64.4 490.9,64.1 492,65 493,66.9 495.2,73.4 497.9,84.1 500.3,96.8M409.9,96.8 411.8,88.5 413.6,82.6 415.3,78.5 416,77.6 416.7,77.3 417.2,77.6 417.8,78.5 418.8,82.3 419.9,88.5 420.8,96.8M486.8,96.8 487.8,88.5 488.8,82.3 489.9,78.5 490.4,77.6 490.9,77.3 491.6,77.6 492.3,78.5 494.1,82.6 495.8,88.5 497.7,96.8M413.1,96.8 415,92.1 416,90.7 416.7,90.5 417.3,91.2 417.8,92.2 418.8,96.8M488.8,96.8 489.9,92.2 490.3,91.2 490.9,90.5 491.6,90.7 492.7,92.1 494.5,96.8M453.8,20.8V95.8"/>
</g>
<g clip-path="url(#clc)" fill="#fff" fill-opacity="0.9"><path d="M393.2,36.5L392.3,33.4L394.8,33.7ZM392.2,47.8L391.3,44.7L393.9,45ZM391.3,59.1L390.4,56L392.9,56.3ZM390.3,70.3L389.4,67.2L392,67.5ZM389.4,81.7L388.4,78.6L391,78.9ZM388.4,93.6L387.4,90.5L390,90.8ZM516.7,58.9L515.1,56.1L517.7,55.8ZM517.7,69.8L516.1,67L518.7,66.7ZM518.7,80.8L517.1,78L519.6,77.7ZM519.6,91.6L518,88.8L520.6,88.5ZM414.6,37.9L415.2,34.6L417.3,36.1ZM492.9,37.8L490,36.3L492,34.6ZM414.6,58.9L415.1,55.7L417.3,57.1ZM492.9,58.8L490.1,57.2L492.2,55.6ZM414.6,71.7L415.2,68.5L417.3,69.9ZM492.9,71.6L490,70L492.1,68.4ZM414.6,83.9L415.2,80.6L417.3,82.1ZM492.9,83.8L490,82.3L492,80.6ZM414.5,93.3L415.3,90.1L417.3,91.7ZM493,93.2L490,91.9L492,90.1ZM433.2,44.9L434.7,47.8L432.1,47.9ZM474.6,44.9L475.7,47.9L473.1,47.8ZM433.3,58.4L434.6,61.3L432,61.4ZM474.5,58.4L475.8,61.4L473.2,61.3ZM433.3,70L434.6,72.9L432,73ZM474.5,70L475.8,73L473.2,72.9ZM433.3,81.4L434.6,84.3L432,84.4ZM474.5,81.4L475.8,84.4L473.2,84.3ZM433.3,91.4L434.6,94.3L432,94.4ZM474.5,91.4L475.8,94.4L473.2,94.3ZM453.8,23.9L455.1,26.9L452.5,26.9ZM453.8,44.9L455.1,47.9L452.5,47.9ZM453.8,58.4L455.1,61.4L452.5,61.4ZM453.8,69.9L455.1,72.9L452.5,72.9ZM453.8,81.3L455.1,84.3L452.5,84.3ZM453.8,91.3L455.1,94.3L452.5,94.3Z"/></g>
<linearGradient id="cgc" x1="0" y1="0" x2="0" y2="1"><stop offset="0.000" stop-color="#ffffff"/><stop offset="0.025" stop-color="#ffffe5"/><stop offset="0.050" stop-color="#ffffcc"/><stop offset="0.075" stop-color="#ffffb3"/><stop offset="0.100" stop-color="#ffff99"/><stop offset="0.125" stop-color="#ffff80"/><stop offset="0.150" stop-color="#ffff66"/><stop offset="0.175" stop-color="#ffff4d"/><stop offset="0.200" stop-color="#ffff33"/><stop offset="0.225" stop-color="#ffff19"/><stop offset="0.250" stop-color="#ffff00"/><stop offset="0.275" stop-color="#ffee00"/><stop offset="0.300" stop-color="#ffdd00"/><stop offset="0.325" stop-color="#ffcc00"/><stop offset="0.350" stop-color="#ffbb00"/><stop offset="0.375" stop-color="#ffaa00"/><stop offset="0.400" stop-color="#ff9900"/><stop offset="0.425" stop-color="#ff8800"/><stop offset="0.450" stop-color="#ff7700"/><stop offset="0.475" stop-color="#ff6600"/><stop offset="0.500" stop-color="#ff5500"/><stop offset="0.525" stop-color="#ff4400"/><stop offset="0.550" stop-color="#ff3300"/><stop offset="0.575" stop-color="#ff2200"/><stop offset="0.600" stop-color="#ff1100"/><stop offset="0.625" stop-color="#ff0000"/><stop offset="0.650" stop-color="#ee0000"/><stop offset="0.675" stop-color="#dd0000"/><stop offset="0.700" stop-color="#cc0000"/><stop offset="0.725" stop-color="#bb0000"/><stop offset="0.750" stop-color="#aa0000"/><stop offset="0.775" stop-color="#990000"/><stop offset="0.800" stop-color="#880000"/><stop offset="0.825" stop-color="#770000"/><stop offset="0.850" stop-color="#660000"/><stop offset="0.875" stop-color="#550000"/><stop offset="0.900" stop-color="#440000"/><stop offset="0.925" stop-color="#330000"/><stop offset="0.950" stop-color="#220000"/><stop offset="0.975" stop-color="#110000"/><stop offset="1.000" stop-color="#000000"/></linearGradient><rect x="525.7" y="34.6" width="3.7" height="61.2" fill="url(#cgc)" stroke="#9a9a9a" stroke-width="0.5"/>
<path d="M384.1,95.8V20.8M384.1,20.8H523.3V95.8" fill="none" stroke="#b4b4b4" stroke-width="0.8"/>
<path d="M384.1,20.8h1.4M384.1,45.8h1.4M384.1,70.8h1.4M384.1,95.8h1.4M391.4,20.8v1.4M422.6,20.8v1.4M453.8,20.8v1.4M485,20.8v1.4M516.2,20.8v1.4" stroke="#777" stroke-width="0.6"/>
<text class="t" x="380.8" y="23.4" font-size="7.5" text-anchor="end">0</text>
<text class="t" x="380.8" y="48.4" font-size="7.5" text-anchor="end">0.2</text>
<text class="t" x="380.8" y="73.4" font-size="7.5" text-anchor="end">0.4</text>
<text class="t" x="380.8" y="98.4" font-size="7.5" text-anchor="end">0.6</text>
<text class="t" x="391.4" y="106.9" font-size="7.5" text-anchor="middle">-0.5</text>
<text class="t" x="422.6" y="106.9" font-size="7.5" text-anchor="middle">-0.25</text>
<text class="t" x="453.8" y="106.9" font-size="7.5" text-anchor="middle">0</text>
<text class="t" x="485" y="106.9" font-size="7.5" text-anchor="middle">0.25</text>
<text class="t" x="516.2" y="106.9" font-size="7.5" text-anchor="middle">0.5</text>
<text class="l" x="453.8" y="115.6" font-size="8.5" text-anchor="middle"><tspan font-style="italic">x</tspan>/<tspan font-style="italic">D</tspan></text>
<text class="l" transform="translate(368.5,58.3) rotate(-90)" font-size="8.5" text-anchor="middle" x="0" y="0"><tspan font-style="italic">z</tspan>/<tspan font-style="italic">D</tspan></text>
<text class="p" x="453.8" y="15.6" font-size="11" text-anchor="middle" font-weight="bold">(c)</text>
<text class="l" x="525.2" y="28.2" font-size="10" text-anchor="start"><tspan font-style="italic">k</tspan>/<tspan font-style="italic">V</tspan><tspan font-size="6.5" dy="2.4">0</tspan><tspan font-size="6.5" dy="-6.2" dx="0.3">2</tspan></text>
<text class="t" x="532.2" y="37.2" font-size="7.5" text-anchor="start">0.5</text>
<text class="t" x="532.2" y="54.8" font-size="7.5" text-anchor="start">0.4</text>
<text class="t" x="532.2" y="72.2" font-size="7.5" text-anchor="start">0.3</text>
<text class="t" x="532.2" y="89.6" font-size="7.5" text-anchor="start">0.2</text>
<clipPath id="cld"><path d="M34.3,134.4 158.4,134.4 165.3,209.4 27.4,209.4 Z"/></clipPath>
<mask id="mcld" maskUnits="userSpaceOnUse" x="0" y="0" width="550" height="351"><path fill="#fff" d="M34.3,134.4 158.4,134.4 165.3,209.4 27.4,209.4 Z"/></mask>
<g mask="url(#mcld)">
<rect x="25.3" y="133.4" width="141.6" height="77" fill="#0a2c9a"/>
<path fill-rule="evenodd" fill="#3a8cf0" d="M25.3,133.4 86,133.4 86.1,136.9 86.7,140.9 87.5,144.4 88.9,147.9 90.4,150.4 92.3,152.7 94.3,154.1 96.3,154.5 98.3,154.2 100.3,152.8 102.3,150.4 103.8,147.9 105.2,144.4 106,140.9 106.6,136.9 106.7,133.4 166.8,133.4 166.8,210.4 25.3,210.4 25.3,133.4Z"/>
<path fill-rule="evenodd" fill="#ffffff" d="M25.3,133.4 83.4,133.4 83.6,137.9 84.2,142.4 85.4,147.4 86.9,151.4 89.1,155.4 91.3,158.3 92.8,159.9 94.8,161.5 95.3,161.9 96.3,162.1 97.3,161.9 97.8,161.6 99.8,160 101.3,158.4 103.6,155.4 105.5,151.9 107.1,147.9 108.4,142.9 109.1,138.4 109.3,133.4 166.8,133.4 166.8,210.4 25.3,210.4 25.3,133.4Z"/>
<path fill-rule="evenodd" fill="#fff0f0" d="M25.3,133.4 80.6,133.4 81.2,140.4 82.6,147.9 84.5,154.4 89.6,167.9 90.7,172.4 91.7,177.9 90.5,196.9 89.2,210.4 25.3,210.4 25.3,133.4ZM112.1,133.4 166.8,133.4 166.8,210.4 103.5,210.4 102.2,196.9 101,177.9 102,172.4 103.1,167.9 104.3,164.4 108,154.9 110,148.4 111.5,140.4 112.1,133.4Z"/>
<path fill-rule="evenodd" fill="#ffdfdf" d="M25.3,133.4 77.4,133.4 77.4,134.4 79.6,146.9 84.4,177.9 83.2,196.9 81.9,210.4 25.3,210.4 25.3,133.4ZM115.3,133.4 166.8,133.4 166.8,210.4 110.8,210.4 109.5,196.9 108.3,177.9 113.1,146.9 115.3,134.4 115.3,133.4Z"/>
<path fill-rule="evenodd" fill="#ffcece" d="M25.3,133.4 75.7,133.4 75.7,134.4 77.9,146.9 82.6,177.9 81.4,196.9 80,210.4 25.3,210.4 25.3,133.4ZM117,133.4 166.8,133.4 166.8,210.4 112.7,210.4 111.3,196.9 110.1,177.9 114.8,146.9 117,134.4 117,133.4Z"/>
<path fill-rule="evenodd" fill="#ffbebe" d="M25.3,133.4 73.9,133.4 73.9,134.4 76.1,146.9 80.8,177.9 79.6,196.9 78.2,210.4 25.3,210.4 25.3,133.4ZM118.8,133.4 166.8,133.4 166.8,210.4 114.5,210.4 113.1,196.9 111.9,177.9 116.6,146.9 118.8,134.4 118.8,133.4Z"/>
<path fill-rule="evenodd" fill="#ffadad" d="M25.3,133.4 72.3,133.4 72.3,134.4 74.5,146.9 79.2,177.9 78,196.9 76.6,210.4 25.3,210.4 25.3,133.4ZM120.4,133.4 166.8,133.4 166.8,210.4 116.1,210.4 114.7,196.9 113.5,177.9 118.2,146.9 120.4,134.4 120.4,133.4Z"/>
<path fill-rule="evenodd" fill="#ff9c9c" d="M25.3,133.4 71.1,133.4 71.1,134.4 73.3,146.9 78,177.9 76.8,196.9 75.4,210.4 25.3,210.4 25.3,133.4ZM121.6,133.4 166.8,133.4 166.8,210.4 117.3,210.4 115.9,196.9 114.7,177.9 119.4,146.9 121.6,134.4 121.6,133.4Z"/>
<path fill-rule="evenodd" fill="#ff8b8b" d="M25.3,133.4 69.8,133.4 69.8,134.4 72.1,146.9 76.8,177.9 75.6,196.9 74.2,210.4 25.3,210.4 25.3,133.4ZM122.9,133.4 166.8,133.4 166.8,210.4 118.5,210.4 117.1,196.9 115.9,177.9 120.6,146.9 122.9,134.4 122.9,133.4Z"/>
<path fill-rule="evenodd" fill="#ff7a7a" d="M25.3,133.4 68.6,133.4 68.6,134.4 70.9,146.9 75.5,177.9 74.3,196.9 73,210.4 25.3,210.4 25.3,133.4ZM124.1,133.4 166.8,133.4 166.8,210.4 119.7,210.4 118.4,196.9 117.2,177.9 121.8,146.9 124.1,134.4 124.1,133.4Z"/>
<path fill-rule="evenodd" fill="#ff6a6a" d="M25.3,133.4 67.4,133.4 67.4,134.4 69.7,146.9 74.3,177.9 73.1,196.9 71.8,210.4 25.3,210.4 25.3,133.4ZM125.3,133.4 166.8,133.4 166.8,210.4 120.9,210.4 119.6,196.9 118.4,177.9 123,146.9 125.3,134.4 125.3,133.4Z"/>
<path fill-rule="evenodd" fill="#ff5959" d="M25.3,133.4 66.2,133.4 66.2,134.4 68.5,146.9 73.1,177.9 71.9,196.9 70.5,210.4 25.3,210.4 25.3,133.4ZM126.5,133.4 166.8,133.4 166.8,210.4 122.2,210.4 120.8,196.9 119.6,177.9 124.2,146.9 126.5,134.4 126.5,133.4Z"/>
<path fill-rule="evenodd" fill="#ff4848" d="M25.3,133.4 64.9,133.4 64.9,134.4 67.2,146.9 71.8,177.9 70.6,196.9 69.2,210.4 25.3,210.4 25.3,133.4ZM127.8,133.4 166.8,133.4 166.8,210.4 123.5,210.4 122.1,196.9 120.9,177.9 125.5,146.9 127.8,134.4 127.8,133.4Z"/>
<path fill-rule="evenodd" fill="#ff3737" d="M25.3,133.4 63.6,133.4 63.6,134.4 65.9,146.9 70.4,177.9 69.2,196.9 67.8,210.4 25.3,210.4 25.3,133.4ZM129.1,133.4 166.8,133.4 166.8,210.4 124.9,210.4 123.5,196.9 122.3,177.9 126.8,146.9 129.1,134.4 129.1,133.4Z"/>
<path fill-rule="evenodd" fill="#ff2727" d="M25.3,133.4 62.3,133.4 62.3,134.4 64.7,146.9 66,157.4 69.1,177.9 67.9,196.9 66.5,210.4 25.3,210.4 25.3,133.4ZM130.4,133.4 166.8,133.4 166.8,210.4 126.2,210.4 124.8,196.9 123.6,177.9 126.7,157.4 128,146.9 130.4,134.4 130.4,133.4Z"/>
<path fill-rule="evenodd" fill="#ff1616" d="M25.3,133.4 61.1,133.4 61.1,134.4 63.5,146.4 64.8,158.4 67.7,177.9 66.5,196.9 65.1,210.4 25.3,210.4 25.3,133.4ZM131.6,133.4 166.8,133.4 166.8,210.4 127.6,210.4 126.2,196.9 125,177.9 128,157.9 129.2,146.9 131.6,134.4 131.6,133.4Z"/>
<path fill-rule="evenodd" fill="#ff0505" d="M25.3,133.4 59.5,133.4 59.6,134.4 61.3,140.9 62.4,146.4 63.3,158.9 66.1,177.9 64.8,196.9 63.4,210.4 25.3,210.4 25.3,133.4ZM133.2,133.4 166.8,133.4 166.8,210.4 129.3,210.4 127.9,196.9 126.6,177.9 129.4,158.9 130.3,146.5 131.3,141.4 133.1,134.4 133.2,133.4Z"/>
<path fill-rule="evenodd" fill="#f90000" d="M25.3,133.4 57.6,133.4 57.9,135.4 60.2,142.4 60.9,145.9 61.2,148.9 61,155.9 61.2,159.4 63.9,177.9 62.6,196.9 61,210.4 25.3,210.4 25.3,133.4ZM135.1,133.4 166.8,133.4 166.8,210.4 131.7,210.4 130.1,196.9 128.8,177.9 131.5,159.4 131.7,155.9 131.5,148.9 131.8,145.9 132.5,142.4 134.8,135.4 135.1,133.4Z"/>
<path fill-rule="evenodd" fill="#f10000" d="M25.3,133.4 55.6,133.4 56.3,135.9 58.8,142.4 59.7,145.9 59.8,149.4 59.2,156.4 59.2,159.9 59.8,164.4 61.9,177.9 60.3,196.9 58.7,210.4 25.3,210.4 25.3,133.4ZM137.1,133.4 166.8,133.4 166.8,210.4 134,210.4 132.4,196.9 130.8,177.9 132.9,164.4 133.5,159.9 133.5,156.4 132.9,149.4 133,145.9 133.9,142.4 136.4,135.9 137.1,133.4Z"/>
<path fill-rule="evenodd" fill="#e80000" d="M25.3,133.4 53.7,133.4 53.9,134.4 54.5,135.9 57.4,141.9 58.3,144.9 58.7,147.9 58.4,150.9 57.3,156.9 57.3,160.9 60,178.4 59.5,184.9 56.4,209.4 56.4,210.4 25.3,210.4 25.3,133.4ZM139,133.4 166.8,133.4 166.8,210.4 136.3,210.4 136.3,209.4 133.2,184.9 132.7,178.4 133.2,174.4 135.1,163.9 135.5,159.9 135.3,156.4 134.1,149.4 134.2,145.9 135.1,142.4 138.2,135.9 138.8,134.4 139,133.4Z"/>
<path fill-rule="evenodd" fill="#e00000" d="M25.3,133.4 49.6,133.4 52.3,135.2 55.8,141.2 57,143.9 57.4,145.9 57.6,147.4 57.2,150.9 55.3,157.8 53.5,159.9 53.1,160.9 53,161.9 53.5,163.9 56,168.9 57.3,172.2 58.3,178.4 57.9,182.9 57.3,186.5 56.6,188.4 52.1,197.4 50.9,200.4 49.8,204.9 49,209.4 49,210.4 25.3,210.4 25.3,133.4ZM142.4,133.9 143.1,133.4 166.8,133.4 166.8,210.4 143.7,210.4 143.7,209.4 142.8,204.4 141.7,199.9 140.2,196.4 136.8,190 135.4,186.4 134.8,183.2 134.5,179.4 134.5,177.9 134.8,175.3 135.3,172.6 135.8,171 139.2,163.9 139.7,161.9 139.6,160.9 139.2,159.9 137.3,157.5 135.4,150.4 135.2,148.4 135.2,146.4 135.9,143.4 137.3,140.5 140.3,135.4 142.4,133.9Z"/>
<path fill-rule="evenodd" fill="#d80000" d="M45,137.9 46.8,137.7 48.8,137.7 50.8,138.1 52.8,138.8 54.8,141.7 56,144.4 56.5,147.4 56.2,150.4 54.8,154 53.3,155.1 51.8,155.8 49.8,156.5 47.3,157 41.3,157 39.8,157.3 38.8,156.2 37.5,154.4 36.6,152.4 36.1,150.9 35.7,147.4 36.2,143.9 37.1,141.4 37.8,140.1 38.3,139.6 39.8,139.4 45,137.9ZM142.7,137.9 145.3,137.7 148.3,138 153.3,139.5 154.3,139.6 155.1,140.4 156,142.4 156.7,144.9 157,147.4 156.9,149.4 156.5,151.4 155.4,153.9 153.8,156.4 152.8,157.3 151.3,157 146.3,157.1 143.8,156.7 140.3,155.6 137.8,153.9 136.8,151.3 136.3,148.9 136.2,146.9 136.7,144.4 137.8,141.8 139.8,139 140.8,138.4 142.7,137.9ZM40.2,162.9 47.3,166 49.3,167.3 51.3,169.2 53,171.4 54.2,173.9 55,176.9 55.2,179.4 54.8,182.4 54,184.9 52.7,187.4 50.8,189.8 48.8,191.5 46.8,192.8 39.3,196.2 37.3,195 35.3,193.4 33.8,191.8 32.5,189.9 31.5,187.9 30.9,185.9 30.4,183.4 30.3,180.9 30.6,178.4 31,175.9 31.9,173.4 33,170.9 34.6,168.4 36.3,166.3 38.3,164.4 40.2,162.9ZM151.5,163.4 152.3,162.9 152.8,163 156.3,166.2 158.8,169.4 160.2,171.9 161.4,174.9 162,177.4 162.3,180.4 162.3,182.9 161.9,185.4 161.2,187.9 160.2,189.9 158.8,191.9 157.3,193.5 155.3,195.1 153.3,196.1 145.8,192.7 143.8,191.4 141.8,189.7 140,187.4 138.9,185.4 138,182.9 137.5,179.9 137.6,177.4 138.3,174.4 139.4,171.9 141.2,169.4 142.8,167.8 145.3,166.1 151.5,163.4Z"/>
<path fill-rule="evenodd" fill="#cf0000" d="M46.1,140.4 48.8,140 50.3,140.1 51.8,140.5 53.3,141.4 54.6,143.4 55.1,144.9 55.5,146.4 55.5,147.9 55.3,149.4 54.8,151.1 54.3,151.9 52.3,153.3 50.8,153.8 49.3,154.2 47.3,154.2 45.8,153.9 44.3,153.3 42.9,152.4 41.9,151.4 41,149.9 40.6,148.4 40.5,146.9 41.3,144.4 42.3,142.9 43.3,141.9 44.8,140.9 46.1,140.4ZM141.2,140.4 143.8,140 145.3,140.1 146.8,140.5 149.3,141.8 151.1,143.9 151.7,144.9 152.1,146.4 152.2,147.9 152,148.9 151.2,150.9 150.4,151.9 149.1,152.9 147.8,153.6 146.3,154 144.8,154.2 143.3,154.1 140.8,153.5 139.3,152.6 138.3,151.8 137.8,150.8 137.3,148.9 137.2,146.9 137.4,145.4 138.1,143.4 139.3,141.5 139.8,141 141.2,140.4ZM40.7,169.4 42.8,169 44.8,169.1 46.8,169.6 48.3,170.4 49.8,171.6 51.2,173.4 52.2,175.4 52.8,177.4 52.9,179.4 52.7,181.4 52,183.4 51,185.4 49.8,186.8 48.3,188.1 46.3,189.2 44.3,189.8 42.3,190 40.3,189.8 38.8,188.8 37.4,187.4 36.3,185.9 35.7,184.4 35.1,182.4 35,180.9 35.1,178.9 35.4,176.9 36.2,174.9 38,171.9 39.3,170.5 40.7,169.4ZM146.5,169.4 148.3,169 149.8,169 151.3,169.2 152.3,169.6 153.8,170.9 155.1,172.4 156.3,174.4 157.1,176.4 157.6,178.4 157.7,180.4 157.6,182.4 157,184.4 156.4,185.9 155.3,187.5 153.8,188.9 152.3,189.8 150.3,190 148.3,189.8 146.3,189.2 144.8,188.4 143.3,187.2 142.1,185.9 141.1,184.4 140.3,182.4 139.9,180.4 139.8,178.4 140.2,176.4 140.9,174.4 141.8,172.9 143.3,171.2 144.8,170.1 146.5,169.4Z"/>
<path fill-rule="evenodd" fill="#c70000" d="M47.7,141.9 49.8,141.8 51.9,142.4 53.3,143.4 54.2,145.4 54.5,147.4 54.2,149.4 52.8,150.9 50.8,152 48.3,152.3 46.3,151.8 45.3,151.2 44.4,150.4 43.7,149.4 43.3,148.4 43.2,146.4 44.1,144.4 45.5,142.9 47.7,141.9ZM142.1,141.9 144.3,141.8 146.3,142.4 147.8,143.4 148.6,144.4 149.2,145.4 149.5,147.4 149,149.4 147.8,150.9 146.3,151.8 144.3,152.3 141.8,152 139.8,150.9 138.6,149.4 138.3,148.4 138.2,146.9 138.8,144.4 139.3,143.5 139.9,142.9 140.8,142.4 142.1,141.9ZM43.2,171.9 44.3,171.8 45.8,172 47.3,172.7 48.3,173.4 49.3,174.4 50.2,175.9 50.7,177.4 50.9,178.9 50.8,180.4 50.4,181.9 49.7,183.4 48.8,184.6 47.8,185.5 46.4,186.4 45.3,186.8 43.8,187 41.3,186.7 40.6,186.4 39.8,185.7 38.8,184.4 38.3,183.4 37.8,181.9 37.6,180.4 38,177.4 38.6,175.9 39.3,174.6 40.3,173.4 41.3,172.5 43.2,171.9ZM147.6,171.9 149.8,172 151.8,172.8 152.9,173.9 153.9,175.4 154.5,176.9 154.9,178.4 155.1,179.9 155,181.4 154.2,183.9 153.3,185.2 152.3,186.2 150.3,187 148.8,187 147.3,186.8 145.8,186.1 144.8,185.5 143.8,184.5 143,183.4 142.3,181.9 141.9,180.4 141.8,178.9 142,177.4 143.1,174.9 143.9,173.9 145,172.9 146.3,172.2 147.6,171.9Z"/>
<path fill-rule="evenodd" fill="#be0000" d="M47.7,143.9 48.8,143.6 50.3,143.7 51.8,144.4 52.6,145.4 53,146.4 52.8,147.9 52.3,148.9 51.3,149.8 49.8,150.4 48.3,150.3 47.1,149.9 46,148.9 45.5,147.4 45.7,145.9 46.3,144.9 47.7,143.9ZM141.7,143.9 143.3,143.6 144.8,143.8 145.9,144.4 146.8,145.4 147.2,146.4 147.2,147.9 146.7,148.9 145.8,149.8 144.3,150.4 142.8,150.3 141.3,149.7 140.3,148.8 139.7,147.4 139.9,145.9 140.4,144.9 141.7,143.9ZM42.7,174.9 44.3,174.5 45.3,174.6 46.3,175 47.8,176.3 48.5,177.9 48.7,179.9 48,181.9 46.7,183.4 44.8,184.2 43.3,184.3 41.8,183.7 40.8,182.8 40.2,181.4 40,179.4 40.5,177.4 41.3,175.9 42.7,174.9ZM146.6,174.9 148.3,174.5 149.8,174.8 151.3,175.7 152.2,177.4 152.7,179.4 152.5,181.4 151.8,182.9 151.3,183.4 150.3,184 148.8,184.3 147.8,184.2 146.8,183.9 145.5,182.9 144.5,181.4 144,179.9 144.1,177.9 144.5,176.9 145.2,175.9 146.6,174.9Z"/>
</g>

<linearGradient id="cgd" x1="0" y1="0" x2="0" y2="1"><stop offset="0.000" stop-color="#800000"/><stop offset="0.025" stop-color="#870000"/><stop offset="0.050" stop-color="#8e0000"/><stop offset="0.075" stop-color="#950000"/><stop offset="0.100" stop-color="#9c0000"/><stop offset="0.125" stop-color="#a40000"/><stop offset="0.150" stop-color="#ab0000"/><stop offset="0.175" stop-color="#b20000"/><stop offset="0.200" stop-color="#b90000"/><stop offset="0.225" stop-color="#c00000"/><stop offset="0.250" stop-color="#c80000"/><stop offset="0.275" stop-color="#cf0000"/><stop offset="0.300" stop-color="#d60000"/><stop offset="0.325" stop-color="#dd0000"/><stop offset="0.350" stop-color="#e40000"/><stop offset="0.375" stop-color="#ec0000"/><stop offset="0.400" stop-color="#f30000"/><stop offset="0.425" stop-color="#fa0000"/><stop offset="0.450" stop-color="#ff0505"/><stop offset="0.475" stop-color="#ff1313"/><stop offset="0.500" stop-color="#ff2222"/><stop offset="0.525" stop-color="#ff3030"/><stop offset="0.550" stop-color="#ff3e3e"/><stop offset="0.575" stop-color="#ff4d4d"/><stop offset="0.600" stop-color="#ff5b5b"/><stop offset="0.625" stop-color="#ff6a6a"/><stop offset="0.650" stop-color="#ff7878"/><stop offset="0.675" stop-color="#ff8787"/><stop offset="0.700" stop-color="#ff9595"/><stop offset="0.725" stop-color="#ffa3a3"/><stop offset="0.750" stop-color="#ffb2b2"/><stop offset="0.775" stop-color="#ffc0c0"/><stop offset="0.800" stop-color="#ffcfcf"/><stop offset="0.825" stop-color="#ffdddd"/><stop offset="0.850" stop-color="#ffecec"/><stop offset="0.875" stop-color="#fffafa"/><stop offset="0.900" stop-color="#b8dbff"/><stop offset="0.925" stop-color="#4aa4ff"/><stop offset="0.950" stop-color="#006eed"/><stop offset="0.975" stop-color="#0037b6"/><stop offset="1.000" stop-color="#000080"/></linearGradient><rect x="166.1" y="148.4" width="3.4" height="61" fill="url(#cgd)" stroke="#9a9a9a" stroke-width="0.5"/>
<path d="M26.3,209.4V134.4M26.3,134.4H165.9V209.4" fill="none" stroke="#b4b4b4" stroke-width="0.8"/>
<path d="M26.3,134.4h1.4M26.3,159.4h1.4M26.3,184.4h1.4M26.3,209.4h1.4M34.3,134.4v1.4M65.3,134.4v1.4M96.3,134.4v1.4M127.4,134.4v1.4M158.4,134.4v1.4" stroke="#777" stroke-width="0.6"/>
<text class="t" x="23" y="137" font-size="7.5" text-anchor="end">0</text>
<text class="t" x="23" y="162" font-size="7.5" text-anchor="end">0.2</text>
<text class="t" x="23" y="187" font-size="7.5" text-anchor="end">0.4</text>
<text class="t" x="23" y="212" font-size="7.5" text-anchor="end">0.6</text>
<text class="t" x="34.3" y="220.5" font-size="7.5" text-anchor="middle">-0.5</text>
<text class="t" x="65.3" y="220.5" font-size="7.5" text-anchor="middle">-0.25</text>
<text class="t" x="96.3" y="220.5" font-size="7.5" text-anchor="middle">0</text>
<text class="t" x="127.4" y="220.5" font-size="7.5" text-anchor="middle">0.25</text>
<text class="t" x="158.4" y="220.5" font-size="7.5" text-anchor="middle">0.5</text>
<text class="l" x="96.3" y="229.2" font-size="8.5" text-anchor="middle"><tspan font-style="italic">x</tspan>/<tspan font-style="italic">D</tspan></text>
<text class="l" transform="translate(10.8,171.9) rotate(-90)" font-size="8.5" text-anchor="middle" x="0" y="0"><tspan font-style="italic">z</tspan>/<tspan font-style="italic">D</tspan></text>
<text class="p" x="96.3" y="129.6" font-size="11" text-anchor="middle" font-weight="bold">(d)</text>
<text class="l" x="165.1" y="143.1" font-size="10" text-anchor="start"><tspan font-style="italic">V</tspan><tspan font-size="6.5" dy="2.2" font-style="italic">z</tspan><tspan dy="-2.2">/</tspan><tspan font-style="italic">V</tspan><tspan font-size="6.5" dy="2.2">0</tspan></text>
<text class="t" x="172.3" y="151.9" font-size="7.5" text-anchor="start">1.5</text>
<text class="t" x="172.3" y="169.5" font-size="7.5" text-anchor="start">1</text>
<text class="t" x="172.3" y="187.2" font-size="7.5" text-anchor="start">0.5</text>
<text class="t" x="172.3" y="204.6" font-size="7.5" text-anchor="start">0</text>
<clipPath id="cle"><path d="M211.2,134.4 336,134.4 343,209.4 204.2,209.4 Z"/></clipPath>
<mask id="mcle" maskUnits="userSpaceOnUse" x="0" y="0" width="550" height="351"><path fill="#fff" d="M211.2,134.4 336,134.4 343,209.4 204.2,209.4 Z"/></mask>
<g mask="url(#mcle)">
<rect x="203.3" y="133.4" width="140.9" height="77" fill="#000d8c"/>
<path fill-rule="evenodd" fill="#0026a6" d="M218.4,133.4 343.8,133.4 343.8,210.4 203.3,210.4 203.3,200 204.6,193.9 205.7,183.4 206.2,181.4 206.9,179.9 210.3,174.6 211.3,172.4 212.8,168.4 213.8,164.9 216.5,153.4 217.4,148.4 218,141.9 218.4,133.4Z"/>
<path fill-rule="evenodd" fill="#0040bf" d="M221,133.4 343.8,133.4 343.8,210.4 209.9,210.4 210.4,207.4 213.1,196.9 213.6,193.4 214,185.9 214.4,182.4 214.8,179.9 216.4,173.9 217.4,169.4 219.7,154.9 220.7,145.9 221,133.4Z"/>
<path fill-rule="evenodd" fill="#0059d9" d="M225.3,133.4 343.8,133.4 343.8,210.4 222.6,210.4 223.1,207.4 224.8,199.4 225.3,194.9 225.1,183.9 225.5,172.4 225.2,161.4 226,147.4 225.3,133.4Z"/>
<path fill-rule="evenodd" fill="#0073f2" d="M235.3,133.4 343.8,133.4 343.8,210.4 236.3,210.4 237.9,198.4 238.1,186.9 238.6,176.4 238.3,171.9 236.9,161.9 236.9,148.9 235.4,137.9 235.3,133.4Z"/>
<path fill-rule="evenodd" fill="#198cff" d="M242.3,133.9 242.3,133.4 343.8,133.4 343.8,210.4 244.3,210.4 245.3,200.4 245.5,188.9 246.3,179.9 246.4,176.4 246.1,172.4 244.5,162.4 244.1,150.4 242.3,138.9 242.2,136.4 242.3,133.9Z"/>
<path fill-rule="evenodd" fill="#4ca6ff" d="M246.3,133.4 343.8,133.4 343.8,210.4 248.7,210.4 249.4,200.9 249.6,189.4 250.5,179.9 250.6,175.9 250.3,172.4 248.7,162.4 248,149.9 246.1,138.9 246,135.9 246.3,133.4Z"/>
<path fill-rule="evenodd" fill="#80bfff" d="M251.3,133.4 343.8,133.4 343.8,210.4 254,210.4 254.4,202.4 254.5,190.9 255.7,179.9 255.9,175.9 255.5,172.4 254.1,162.9 253.3,151.4 251.1,139.4 251,136.4 251.3,133.4Z"/>
<path fill-rule="evenodd" fill="#b2d9ff" d="M256.1,133.4 258.7,133.4 258.8,144.9 258.3,151.9 255.9,140.4 255.7,136.9 256.1,133.4ZM259.7,133.4 343.8,133.4 343.8,210.4 259.1,210.4 259.2,203.4 259.1,191.9 259.4,187.9 260.5,180.9 260.7,177.4 260.6,173.9 259.5,165.4 259.2,160.9 259.3,151.9 258.9,140.9 259.1,137.4 259.7,133.4Z"/>
<path fill-rule="evenodd" fill="#e6f2ff" d="M264.3,133.4 343.8,133.4 343.8,210.4 264,210.4 264.1,204.9 263.8,201.4 263.7,191.9 263.8,189.1 265.1,181.4 265.3,177.4 265.2,172.4 264.3,165.9 264.2,152.9 263.8,149.4 263.5,142.4 263.8,136.3 264.3,133.4Z"/>
<path fill-rule="evenodd" fill="#ffe2e2" d="M280.4,133.4 343.8,133.4 343.8,210.4 281.3,210.4 280.8,203.9 280,198.9 279.6,193.9 280,188.9 280.8,184.1 281.3,178.4 281.1,168.9 281.4,160.4 281.3,154.9 279.9,146.4 279.6,141.9 279.9,136.9 280.4,133.4Z"/>
<path fill-rule="evenodd" fill="#ffa7a7" d="M286.4,133.4 288.6,133.4 288.8,141.6 289.8,136.5 290.1,133.4 343.8,133.4 343.8,210.4 287.6,210.4 287.3,206.4 286,198.4 285.7,194.4 285.9,189.9 286.9,180.9 287.1,169.4 287.7,159.4 287.3,153.4 286.1,146.4 285.8,143.4 285.9,138.9 286.4,133.4Z"/>
<path fill-rule="evenodd" fill="#ff6c6c" d="M294.7,133.4 343.8,133.4 343.8,210.4 292.3,210.4 291.8,204.7 290.5,197.4 290.4,192.4 291.3,182.9 291.5,169.9 292.8,157.4 292.7,149.4 292.9,145.4 294.3,137.7 294.7,133.4Z"/>
<path fill-rule="evenodd" fill="#ff3131" d="M297.3,133.4 343.8,133.4 343.8,210.4 295,210.4 294.6,205.9 293.3,198.4 293,192.9 293.7,183.4 294,170.9 294.3,167.2 295.1,160.9 295.4,157.4 295.4,147.4 295.8,143.6 297,136.9 297.3,133.4Z"/>
<path fill-rule="evenodd" fill="#fa0000" d="M300.8,133.4 343.8,133.4 343.8,210.4 298.6,210.4 298.4,206.9 296.9,197.4 296.7,192.4 297.3,183.4 297.4,171.4 299,158.4 299.1,147.4 299.4,144.4 300.6,137.4 300.8,133.4Z"/>
<path fill-rule="evenodd" fill="#dd0000" d="M304.6,133.4 343.8,133.4 343.8,210.4 302.7,210.4 302.4,206.9 301.2,199.4 300.8,195.4 301.1,183.9 301,174.4 301.3,169.9 302.7,159.9 302.9,147.9 303.2,144.9 304.5,137.4 304.6,133.4Z"/>
<path fill-rule="evenodd" fill="#bf0000" d="M316.8,133.4 343.8,133.4 343.8,210.4 316.4,210.4 316.2,207.4 315,197.9 314.6,187.4 313.7,178.4 313.6,174.9 313.8,170.9 315.2,160.9 315.6,148.9 317,138.9 317.1,136.4 316.8,133.4Z"/>
<path fill-rule="evenodd" fill="#a20000" d="M324.5,133.4 343.8,133.4 343.8,210.4 331,210.4 330.6,202.4 330.4,189.9 329.8,185.6 327.7,175.9 327,170.9 325.2,151.9 324.5,133.4Z"/>
<path fill-rule="evenodd" fill="#890000" d="M327.9,133.4 339.5,133.4 339.8,138.6 341.2,151.4 341.1,157.9 340.5,162.9 339.3,167.4 338.3,169.8 337.8,170.4 336.8,171 336.3,171 335.3,170.5 334.8,170 334.3,169.1 332.3,163.6 330.6,157.4 329.7,152.9 329,148.4 327.9,133.4ZM339.5,190.9 340.3,190.8 341.3,191.2 342.3,192.1 343.8,194.2 343.8,210.4 336,210.4 335.8,203.9 336.3,198.4 336.8,195.9 337.8,192.8 338.3,191.8 339.5,190.9Z"/>
</g>

<linearGradient id="cge" x1="0" y1="0" x2="0" y2="1"><stop offset="0.000" stop-color="#800000"/><stop offset="0.025" stop-color="#8d0000"/><stop offset="0.050" stop-color="#9b0000"/><stop offset="0.075" stop-color="#a90000"/><stop offset="0.100" stop-color="#b60000"/><stop offset="0.125" stop-color="#c40000"/><stop offset="0.150" stop-color="#d20000"/><stop offset="0.175" stop-color="#e00000"/><stop offset="0.200" stop-color="#ed0000"/><stop offset="0.225" stop-color="#fb0000"/><stop offset="0.250" stop-color="#ff1414"/><stop offset="0.275" stop-color="#ff2f2f"/><stop offset="0.300" stop-color="#ff4b4b"/><stop offset="0.325" stop-color="#ff6666"/><stop offset="0.350" stop-color="#ff8181"/><stop offset="0.375" stop-color="#ff9d9d"/><stop offset="0.400" stop-color="#ffb8b8"/><stop offset="0.425" stop-color="#ffd4d4"/><stop offset="0.450" stop-color="#ffefef"/><stop offset="0.475" stop-color="#f5faff"/><stop offset="0.500" stop-color="#ddeeff"/><stop offset="0.525" stop-color="#c5e2ff"/><stop offset="0.550" stop-color="#add6ff"/><stop offset="0.575" stop-color="#96caff"/><stop offset="0.600" stop-color="#7ebeff"/><stop offset="0.625" stop-color="#66b2ff"/><stop offset="0.650" stop-color="#4ea7ff"/><stop offset="0.675" stop-color="#369bff"/><stop offset="0.700" stop-color="#1f8fff"/><stop offset="0.725" stop-color="#0783ff"/><stop offset="0.750" stop-color="#0077f6"/><stop offset="0.775" stop-color="#006beb"/><stop offset="0.800" stop-color="#005fdf"/><stop offset="0.825" stop-color="#0053d3"/><stop offset="0.850" stop-color="#0047c7"/><stop offset="0.875" stop-color="#003cbb"/><stop offset="0.900" stop-color="#0030af"/><stop offset="0.925" stop-color="#0024a3"/><stop offset="0.950" stop-color="#001897"/><stop offset="0.975" stop-color="#000c8b"/><stop offset="1.000" stop-color="#000080"/></linearGradient><rect x="343.5" y="148.4" width="3.2" height="61" fill="url(#cge)" stroke="#9a9a9a" stroke-width="0.5"/>
<path d="M204.3,209.4V134.4M204.3,134.4H343.2V209.4" fill="none" stroke="#b4b4b4" stroke-width="0.8"/>
<path d="M204.3,134.4h1.4M204.3,159.4h1.4M204.3,184.4h1.4M204.3,209.4h1.4M211.2,134.4v1.4M242.4,134.4v1.4M273.6,134.4v1.4M304.8,134.4v1.4M336,134.4v1.4" stroke="#777" stroke-width="0.6"/>
<text class="t" x="201" y="137" font-size="7.5" text-anchor="end">0</text>
<text class="t" x="201" y="162" font-size="7.5" text-anchor="end">0.2</text>
<text class="t" x="201" y="187" font-size="7.5" text-anchor="end">0.4</text>
<text class="t" x="201" y="212" font-size="7.5" text-anchor="end">0.6</text>
<text class="t" x="211.2" y="220.5" font-size="7.5" text-anchor="middle">-0.5</text>
<text class="t" x="242.4" y="220.5" font-size="7.5" text-anchor="middle">-0.25</text>
<text class="t" x="273.6" y="220.5" font-size="7.5" text-anchor="middle">0</text>
<text class="t" x="304.8" y="220.5" font-size="7.5" text-anchor="middle">0.25</text>
<text class="t" x="336" y="220.5" font-size="7.5" text-anchor="middle">0.5</text>
<text class="l" x="273.6" y="229.2" font-size="8.5" text-anchor="middle"><tspan font-style="italic">x</tspan>/<tspan font-style="italic">D</tspan></text>
<text class="l" transform="translate(189.9,171.9) rotate(-90)" font-size="8.5" text-anchor="middle" x="0" y="0"><tspan font-style="italic">z</tspan>/<tspan font-style="italic">D</tspan></text>
<text class="p" x="273.6" y="129.6" font-size="11" text-anchor="middle" font-weight="bold">(e)</text>
<text class="l" x="342.5" y="143.1" font-size="10" text-anchor="start"><tspan font-style="italic">V</tspan><tspan font-size="6.5" dy="2.2" font-style="italic">y</tspan><tspan dy="-2.2">/</tspan><tspan font-style="italic">V</tspan><tspan font-size="6.5" dy="2.2">0</tspan></text>
<text class="t" x="349.5" y="158.6" font-size="7.5" text-anchor="start">1</text>
<text class="t" x="349.5" y="179.9" font-size="7.5" text-anchor="start">0</text>
<text class="t" x="349.5" y="201.9" font-size="7.5" text-anchor="start">-1</text>
<clipPath id="clf"><path d="M390.9,134.4 513.1,134.4 519.9,209.4 384.1,209.4 Z"/></clipPath>
<mask id="mclf" maskUnits="userSpaceOnUse" x="0" y="0" width="550" height="351"><path fill="#fff" d="M390.9,134.4 513.1,134.4 519.9,209.4 384.1,209.4 Z"/></mask>
<g mask="url(#mclf)">
<rect x="382.5" y="133.4" width="139.3" height="77" fill="#110000"/>
<path fill-rule="evenodd" fill="#330000" d="M393.4,133.4 401.4,133.4 401.3,135.9 400.7,137.9 399.9,139.4 398.5,140.9 397.5,141.3 396.5,141.3 395.5,141.1 394.5,140.2 394,139.4 393.5,137.5 393.4,133.4ZM415.7,133.4 488.3,133.4 487.6,158.9 487.5,170.4 487.7,179.4 488.5,184.7 489,185.9 492,185.5 495,185.4 497.5,185.7 500.5,186.2 505,187.9 507.5,189.2 508.5,189.9 511.6,193.9 512.7,195.9 513.5,198 514.2,201.4 514.5,204.9 514.4,207.9 513.8,210.4 390.2,210.4 389.6,207.9 389.5,204.9 389.8,201.4 390.5,198 391.3,195.9 392.4,193.9 395.5,189.9 396.5,189.2 399,187.9 403.5,186.2 406.5,185.7 409,185.4 412,185.5 415,185.9 415.5,184.7 416.3,179.4 416.5,170.4 416.4,158.9 415.7,133.4ZM502.6,133.4 510.6,133.4 510.7,135.9 510.4,137.9 510,139.4 509,140.8 508,141.3 506.5,141.3 505.5,140.9 504.5,139.9 503.8,138.9 502.9,136.9 502.6,135.4 502.6,133.4Z"/>
<path fill-rule="evenodd" fill="#550000" d="M393.7,133.4 400.5,133.4 400.5,134.9 400.1,136.9 399.3,138.4 398.5,139.4 397.5,140 396.5,140.1 395.5,139.8 394.5,138.9 394,137.8 393.7,136.4 393.7,133.4ZM416.8,133.4 487.2,133.4 487.1,141.4 486.4,160.4 486.3,172.9 486.6,180.9 487,183.9 487.6,186.4 488.5,188.7 489,189.4 491.5,188.9 494,188.8 497,189 499.5,189.5 502,190.3 504.5,191.5 506.6,192.9 508.5,194.5 509.8,196.4 510.9,198.4 511.6,200.4 512,202.4 512.2,204.4 512,206.4 511.4,208.4 510.5,210.4 393.5,210.4 392.6,208.4 392,206.4 391.8,204.4 392,202.4 392.4,200.4 393.1,198.4 394.2,196.4 395.5,194.5 397.4,192.9 399.5,191.5 402,190.3 404.5,189.5 407,189 410,188.8 412.5,188.9 415,189.4 415.5,188.7 416.4,186.4 417,183.9 417.4,180.9 417.7,172.9 417.6,160.4 416.9,141.4 416.8,133.4ZM503.5,133.4 510.3,133.4 510.4,135.4 510.1,137.4 509.5,138.9 509,139.5 508,140 507,140.1 506,139.7 505,138.9 504.4,137.9 503.7,136.4 503.5,134.9 503.5,133.4Z"/>
<path fill-rule="evenodd" fill="#770000" d="M394,133.9 394,133.4 399.9,133.4 399.9,134.4 399.7,135.9 399.1,137.4 398.5,138.3 397.5,139 396.5,139.2 395.5,138.9 395,138.5 394.5,137.7 394.1,136.4 394,133.9ZM417.8,133.4 486.2,133.4 486.1,141.4 485.2,159.9 485.1,171.9 485.3,180.9 485.7,183.9 486.3,186.4 487.4,189.4 488.5,191.3 489,191.9 491,191.4 493.5,191.2 496,191.3 498.5,191.7 501,192.6 503,193.6 505,194.9 506.6,196.4 507.8,197.9 508.7,199.4 509.2,200.9 509.6,202.9 509.6,204.9 509.3,206.4 508.7,207.9 507.8,209.4 506.9,210.4 397.1,210.4 395.9,208.9 395,207.4 394.6,205.9 394.4,203.9 394.5,201.9 395,200.2 395.9,198.4 397,196.9 398.5,195.4 400.5,193.9 402.5,192.8 405,191.9 407.5,191.4 410,191.2 412.5,191.4 415,191.9 415.5,191.3 416.6,189.4 417.9,185.9 418.4,183.4 418.7,180.4 418.9,170.9 418.8,159.9 417.9,141.4 417.8,133.4ZM504.1,133.4 510,133.4 509.9,136.4 509.5,137.7 509,138.5 508.5,138.9 507.5,139.2 506.5,139 505.5,138.3 504.9,137.4 504.3,135.9 504.1,134.4 504.1,133.4Z"/>
<path fill-rule="evenodd" fill="#990000" d="M394.4,133.4 399.3,133.4 399.4,134.4 399.2,135.9 398.7,136.9 398,137.8 397.5,138.2 396.5,138.4 395.5,138.1 395,137.5 394.4,135.9 394.4,133.4ZM418.7,133.4 485.3,133.4 485.1,140.9 484.2,159.4 484,170.9 484.2,180.9 484.5,183.9 485,186.7 486.5,190.5 488,192.9 489,194.1 491,193.5 493,193.3 495.5,193.3 497.5,193.6 499.5,194.3 501.5,195.2 503.2,196.4 504.5,197.6 505.5,198.9 506.4,200.4 506.8,201.9 507,203.4 506.9,204.9 506.5,206.4 505.7,207.9 504.9,208.9 503.2,210.4 400.8,210.4 400,209.8 398.7,208.4 397.7,206.9 397.2,205.4 397,203.9 397.1,202.4 397.4,200.9 398.2,199.4 399.2,197.9 400.8,196.4 402.5,195.2 404.5,194.3 406.5,193.6 408.5,193.3 411,193.3 413,193.5 415,194.1 416,192.9 417.5,190.5 419,186.7 419.5,183.9 419.8,180.9 420,170.9 419.8,159.4 418.9,140.9 418.7,133.4ZM504.7,133.4 509.6,133.4 509.7,134.9 509.5,136.4 509.1,137.4 508.5,138.1 508,138.3 507,138.4 506.1,137.9 505.6,137.4 505,136.4 504.7,135.4 504.7,133.4Z"/>
<path fill-rule="evenodd" fill="#bb0000" d="M394.8,133.4 398.8,133.4 398.9,134.4 398.6,135.9 398,136.9 397.5,137.4 396.5,137.7 396,137.6 395.3,136.9 394.7,135.4 394.8,133.4ZM419.6,133.4 484.4,133.4 484.2,141.4 483.2,159.9 483,171.4 483.1,181.4 483.4,184.4 484,187.4 484.8,189.9 485.5,191.5 487,193.9 489,196.3 490.5,195.7 492.5,195.3 494,195.2 496,195.3 498,195.8 499.5,196.5 501,197.4 502.5,198.7 503.9,200.9 504.3,201.9 504.5,203.4 504.3,204.9 504,205.9 502.6,207.9 500.8,209.4 498.6,210.4 490.1,210.4 489,210.1 488.7,210.4 415.3,210.4 415,210.1 413.9,210.4 405.4,210.4 403.5,209.6 401.9,208.4 400.3,206.4 399.8,205.4 399.5,203.9 399.6,202.4 399.9,201.4 400.5,200.1 401.3,198.9 402.5,197.8 404,196.7 405.5,196 407.5,195.4 409.5,195.2 411.5,195.3 413.5,195.7 415,196.3 417,193.9 418.5,191.5 419.2,189.9 420,187.4 420.6,184.4 420.9,181.4 421,171.4 420.8,159.9 419.8,141.4 419.6,133.4ZM505.2,133.4 509.2,133.4 509.3,135.4 509,136.4 508.5,137.2 507.5,137.7 506.5,137.4 506,137 505.2,135.4 505.1,134.4 505.2,133.4Z"/>
<path fill-rule="evenodd" fill="#dd0000" d="M395.3,133.4 398.3,133.4 398.4,134.4 398.2,135.4 397.7,136.4 397,136.9 396.5,136.9 396,136.8 395.5,136.2 395.1,134.9 395.3,133.4ZM420.5,133.4 483.5,133.4 483.4,141.4 482.2,159.9 481.9,170.9 482.1,181.4 482.4,184.9 482.9,187.9 483.9,190.9 485,193.4 489,198.9 490.5,198 492,197.5 493.5,197.3 495,197.3 496.5,197.6 498,198.1 499.3,198.9 500.4,199.9 501.4,201.4 501.8,203.4 501.5,204.9 500.5,206.6 499.5,207.5 498,208.3 496.5,208.8 495,209 492,208.8 489,207.5 486.9,210.4 417.1,210.4 415,207.5 412,208.8 409,209 407.5,208.8 406,208.3 403.8,206.9 402.7,205.4 402.2,203.4 402.6,201.4 403.6,199.9 404.7,198.9 406,198.1 407.5,197.6 409,197.3 410.5,197.3 412,197.5 413.5,198 415,198.9 419,193.4 420.3,190.4 421.2,187.4 421.7,184.4 422,180.9 422,169.9 421.7,157.9 420.6,140.4 420.5,133.4ZM505.7,133.4 508.7,133.4 508.8,135.4 508.5,136.2 508,136.8 507.5,136.9 507,136.9 506.5,136.6 506,135.9 505.6,134.4 505.7,133.4Z"/>
<path fill-rule="evenodd" fill="#ff0000" d="M395.9,133.4 397.6,133.4 397.8,134.4 397.7,134.9 397.5,135.5 397,136 396.5,136 395.9,135.4 395.7,134.4 395.9,133.4ZM421.3,133.4 482.7,133.4 482.5,141.9 480.8,165.4 480.5,178.4 481.1,184.4 482.5,190.7 484.5,195.2 487.5,199.9 488.4,202.4 488.4,203.9 487.8,205.9 485.1,210.4 418.9,210.4 416.2,205.9 415.6,203.9 415.6,202.4 416.5,199.9 419.5,195.2 421.5,190.7 422.9,184.4 423.5,178.4 423.2,165.4 421.5,141.9 421.3,133.4ZM506.4,133.4 508.1,133.4 508.3,134.9 508,135.7 507.5,136 507,136 506.5,135.4 506.2,134.4 506.4,133.4ZM409.3,199.9 410.5,199.9 412.1,200.4 413.3,201.4 413.8,202.4 413.8,203.9 413.3,204.9 412,205.9 411,206.3 409,206.4 407.5,205.9 406.2,204.9 405.7,203.9 405.7,202.4 406.3,201.4 407.6,200.4 409.3,199.9ZM493.6,199.9 495,199.9 496.4,200.4 497.2,200.9 498.1,201.9 498.4,203.4 498.1,204.4 497.5,205.3 496.5,205.9 495,206.4 493,206.3 491.5,205.6 490.4,204.4 490.1,202.9 490.7,201.4 491.9,200.4 493.6,199.9Z"/>
<path fill-rule="evenodd" fill="#ff2200" d="M422.1,133.4 481.9,133.4 481.5,143.4 479.7,156.9 479.1,163.4 478.7,171.9 478.6,178.9 479,183.9 479.7,187.4 482.6,194.4 485.5,200.4 486.1,202.4 486.2,203.9 485.8,205.4 483.7,210.4 454.6,210.4 454.6,196.4 454.4,191.9 454.1,189.9 453.5,187.9 452,185.1 450.5,187.9 449.9,189.9 449.6,191.9 449.4,196.4 449.4,210.4 420.3,210.4 418.2,205.4 417.8,203.9 417.9,202.4 418.5,200.4 421.4,194.4 424.3,187.4 425,183.9 425.4,178.9 425.3,171.9 424.9,163.4 424.3,156.9 422.5,143.4 422.1,133.4Z"/>
<path fill-rule="evenodd" fill="#ff4400" d="M423.2,133.4 480.8,133.4 480.8,137.4 480.4,141.9 478.1,155.9 477.4,161.9 476.8,171.9 476.7,179.9 477,184.9 477.9,188.9 479.3,191.9 481.5,195 483.3,199.4 484,201.9 484.2,203.4 483.9,205.4 482.3,210.4 462.4,210.4 462.6,202.9 464,188.9 463.9,185.4 463.3,182.4 462.5,180.4 462,179.6 461.5,179.2 455,177.7 452,176.7 449,177.7 442.5,179.2 442,179.6 441.5,180.4 440.7,182.4 440.1,185.4 440,188.9 441.4,202.9 441.6,210.4 421.7,210.4 420.1,205.4 419.8,203.4 420,201.9 420.7,199.4 422.5,195 424.7,191.9 426.1,188.9 427,184.9 427.3,179.9 427.2,171.9 426.6,161.9 425.9,155.9 423.6,141.9 423.2,137.4 423.2,133.4Z"/>
<path fill-rule="evenodd" fill="#ff6600" d="M424.5,133.4 479.5,133.4 479.3,138.9 478.6,144.9 476.5,156 474.5,162.9 472.3,173.4 471.5,178.4 471.2,182.4 471.5,185.4 472.5,187.9 474,189.6 476.5,191.3 478.1,194.4 481,197.9 481.6,198.9 482.3,201.9 482.4,204.4 481.8,207.9 480.9,210.4 465,210.4 465,206.4 465.4,202.4 466.3,197.9 469,187.9 469.4,184.9 469.4,181.9 468.8,178.4 468.2,176.9 467.4,175.4 466.5,174.4 465.3,173.4 464,172.7 462,172 459,172.6 456.5,172.9 454,172.7 452,172.3 449.5,172.8 447,172.8 445,172.6 442,172 439.5,173 437.5,174.4 436,176.4 435.2,178.4 434.6,181.4 434.5,184.4 435.2,188.9 437.5,197.4 438.4,201.4 439,205.9 439,210.4 423.1,210.4 422.2,207.9 421.6,204.4 421.7,201.9 422.4,198.9 423,197.9 425.9,194.4 427.5,191.3 430,189.6 431.5,187.9 432.5,185.4 432.8,182.4 432.5,178.4 431.7,173.4 429.5,162.9 427.5,156 425.4,144.9 424.7,138.9 424.5,133.4Z"/>
<path fill-rule="evenodd" fill="#ff8800" d="M425.8,133.4 478.2,133.4 478.2,136.9 477.9,140.4 476.5,148.3 472.6,157.4 470.5,164.6 470,165.1 468.5,164.6 467,164.4 462,165.2 460,166.7 458.5,167.6 457,168.1 455,168.4 453.5,168.3 452,167.9 449.5,168.4 447,168.1 444.5,167.1 442,165.2 439,164.7 436,164.5 434,165.1 433.5,164.6 432.4,160.4 431.2,156.9 427.5,148.3 426.1,140.4 425.8,136.9 425.8,133.4ZM431.2,195.4 433.5,195.1 434,195.7 435,198.1 436.1,201.4 436.7,204.4 437,207.4 436.9,210.4 425.2,210.4 423.6,205.4 423.6,203.4 424,201.9 425,199.9 427.5,196.1 431.2,195.4ZM470.2,195.4 470.5,195.1 476.5,196.1 479.3,200.4 480.2,202.4 480.5,204.4 480.2,206.4 478.8,210.4 467.1,210.4 467.1,206.4 467.6,202.9 468.7,198.9 470.2,195.4Z"/>
<path fill-rule="evenodd" fill="#ffaa00" d="M427,133.9 427,133.4 477,133.4 476.7,139.4 476.3,141.9 475.3,144.9 470.5,154.9 470,155.3 467,155.5 462,156.3 461.2,156.9 457.5,160.4 455.5,161.6 454.5,161.8 453.5,161.7 452,160.9 451,161.5 449.5,161.8 448.1,161.4 447,160.8 442.8,156.9 442,156.3 437,155.5 434,155.3 433.5,154.9 429.8,147.4 428,143 427.5,141.2 427.3,139.4 427,133.9ZM427.9,200.4 431,200.1 432.5,200.4 433.5,200.8 434.2,202.4 434.9,205.4 435.1,207.9 435,210.4 427,210.4 426.3,206.9 426.2,204.4 427.1,201.4 427.5,200.6 427.9,200.4ZM471.5,200.4 474,200.1 476.5,200.6 477.5,202.9 477.8,204.9 477.7,207.4 477,210.4 469,210.4 469,206.9 469.5,203.4 470.5,200.8 471.5,200.4Z"/>
<path fill-rule="evenodd" fill="#ffcc00" d="M428.7,133.4 475.3,133.4 475.3,135.4 474.8,139.4 473.8,142.9 471.7,147.4 470.5,149.6 470,150 462,151.4 458.5,152.9 456,153.5 454,153.6 452,153.1 450.5,153.5 449,153.6 446,153 442,151.4 434,150 433.5,149.6 431.3,145.4 429.7,141.4 428.8,137.4 428.7,133.4Z"/>
<path fill-rule="evenodd" fill="#ffee00" d="M430.6,133.4 473.4,133.4 473.4,135.4 473.1,137.9 472.4,140.9 471,144.4 470.5,145.3 470,145.8 466,147.2 462,148.1 459,149.2 457,149.6 454.5,149.8 452,149.5 448.5,149.8 445.5,149.3 442,148.1 437.5,147.1 434,145.8 433.5,145.3 432.8,143.9 431.4,139.9 430.8,136.9 430.6,133.4Z"/>
<path fill-rule="evenodd" fill="#ffff1a" d="M432.5,133.4 471.5,133.4 471.5,135.4 471.2,137.9 470.5,140.5 470,141.3 469.5,141.7 466.8,143.4 464.5,144.4 457.5,146.7 455,147 452,146.8 449,147 445.5,146.5 442,145.1 439.5,144.4 436.5,143 434.2,141.4 433.5,140.5 432.9,138.4 432.6,135.9 432.5,133.4Z"/>
<path fill-rule="evenodd" fill="#ffff4d" d="M435.4,133.9 435.5,133.4 468.5,133.4 468.6,134.4 468.3,136.4 467.2,138.4 465.8,139.9 463.5,141.4 459.5,143.4 457,144.2 455,144.4 452,144.2 449.5,144.4 447,144.2 445,143.6 440.5,141.4 438.8,140.4 437.2,138.9 436.2,137.4 435.6,135.9 435.4,133.9Z"/>
<path fill-rule="evenodd" fill="#ffff80" d="M440.4,133.9 440.5,133.4 463.5,133.4 463.6,134.4 463.4,135.9 462.5,137.3 460.5,139.4 458.5,140.7 456.6,141.4 455,141.7 452,141.5 449.5,141.7 447.5,141.4 446,140.9 443.5,139.4 440.9,136.4 440.5,135.4 440.4,133.9Z"/>
<path fill-rule="evenodd" fill="#ffffb2" d="M445.8,133.4 458.2,133.4 458.3,134.9 458,135.9 457.5,136.6 456.6,137.4 455.5,137.9 453.5,138.1 452,137.8 451,138 449.5,138.1 447.5,137.4 446.3,136.4 445.7,134.9 445.8,133.4Z"/>
</g>
<g clip-path="url(#clf)" fill="none" stroke="#fff" stroke-width="0.75" stroke-opacity="0.9">
<path d="M382.5,139.4 383,133.4M382.5,187.5 387.6,133.4M385.5,210.4 392.2,133.4M390.6,210.4 394.4,166.6 396.8,133.4M396.6,210.4 399.5,167.7 401.4,133.4M402.5,210.4 404.6,167 406,133.4M408.2,210.4 410.6,133.4M413.6,210.4 415.2,133.4M419,210.4 419.8,133.4M424.1,210.4 424.4,133.4M429,210.4 429.3,161.4 429,133.4M433.6,210.4 433.7,192.2 434,182 434.6,174.7 436,164.9 436.2,161.4 436,158.2 434.3,145.6 433.7,133.4M438.2,210.4 438.4,193.6 438.7,188.7 439.2,184.5 439.8,181.3 440.6,178.9 444.1,172.2 445.2,169.4 446.1,165.6 446.4,161.4 446.2,157.9 445.5,154.3 444.4,151.2 441.4,145.6 440.3,142.8 439.2,138.6 438.6,133.4M442.8,210.4 443,197.4 443.5,189.7 444.5,184.5 446.9,176 447.7,172.2 448.4,167.3 448.7,162.1 448.5,156.5 447.9,151.2 446.9,146.8 444.5,138.3 443.5,133.4M447.4,210.4 447.5,199.5 447.8,192.5 448.2,187.3 449.9,173.3 450.4,162.4 450.4,156.1 450,150.2 448,133.4M456.6,210.4 456.5,199.5 456.3,192.5 455.8,187.3 454.1,173.6 453.6,162.4 453.7,156.1 454,149.8 456,133.4M461.2,210.4 461.1,197.4 460.5,189.7 459.6,184.5 457.1,175.7 456.3,172.2 455.6,167.3 455.3,162.1 455.5,156.1 456.2,150.9 457.1,147.1 459.6,138.3 460.5,133.4M465.8,210.4 465.6,193.6 465.4,188.7 464.9,184.5 464.2,181.3 463.4,178.8 459.9,172.1 458.8,169.5 457.9,165.6 457.6,161.4 457.8,157.9 458.5,154.4 459.9,150.7 462.6,145.6 463.8,142.8 464.8,138.6 465.4,133.4M470.4,210.4 470.3,192.2 470,182 469.5,175 468,164.5 467.8,161.4 468,158.2 469.7,145.6 470.3,133.4M475,210.4 474.8,161.4 475,133.4M479.9,210.4 479.6,133.4M485.1,210.4 484.2,133.4M490.4,210.4 488.8,133.4M495.9,210.4 493.4,133.4M501.5,210.4 499.4,166.7 498,133.4M507.4,210.4 504.5,167.7 502.6,133.4M513.4,210.4 509.6,166.3 507.2,133.4M518.5,210.4 511.8,133.4M521.8,190.4 516.4,133.4M521.8,142.1 521,133.4M452,134.4V209.4"/>
</g>
<g clip-path="url(#clf)" fill="#fff" fill-opacity="0.9"><path d="M392.6,138.6L391.6,135.5L394.2,135.8ZM391.6,150.1L390.6,147L393.2,147.3ZM390.7,161.1L389.7,158L392.2,158.3ZM389.8,171.6L388.7,168.5L391.3,168.8ZM388.8,182.6L387.8,179.5L390.4,179.8ZM387.8,194L386.8,190.9L389.4,191.2ZM386.9,204.6L385.9,201.5L388.5,201.8ZM413.8,138.6L412.6,135.6L415.2,135.7ZM413.2,150.1L411.9,147.1L414.5,147.2ZM412.6,161.1L411.3,158.1L413.9,158.2ZM412,171.6L410.8,168.6L413.4,168.7ZM411.4,182.6L410.1,179.6L412.7,179.7ZM410.7,194L409.5,191L412.1,191.1ZM410.1,204.6L408.9,201.6L411.5,201.7ZM452,138.7L450.7,135.7L453.3,135.7ZM452,150.2L450.7,147.2L453.3,147.2ZM452,161.2L450.7,158.2L453.3,158.2ZM452,171.7L450.7,168.7L453.3,168.7ZM452,182.7L450.7,179.7L453.3,179.7ZM452,194.1L450.7,191.1L453.3,191.1ZM452,204.7L450.7,201.7L453.3,201.7ZM475.5,138.6L474.2,135.6L476.8,135.7ZM475.5,150.1L474.2,147.1L476.8,147.2ZM475.5,161.1L474.2,158.1L476.8,158.2ZM475.5,171.6L474.2,168.7L476.8,168.6ZM475.5,182.6L474.2,179.7L476.8,179.6ZM475.5,194L474.2,191.1L476.8,191ZM475.5,204.6L474.2,201.7L476.8,201.6ZM497.2,138.6L495.8,135.7L498.4,135.6ZM498,150.1L496.6,147.2L499.2,147.1ZM498.7,161.1L497.3,158.2L499.9,158.1ZM499.4,171.6L498,168.7L500.6,168.6ZM500.2,182.6L498.7,179.7L501.3,179.6ZM500.9,194L499.5,191.1L502.1,191ZM501.6,204.6L500.2,201.7L502.8,201.6Z"/></g>
<linearGradient id="cgf" x1="0" y1="0" x2="0" y2="1"><stop offset="0.000" stop-color="#ffffff"/><stop offset="0.025" stop-color="#ffffe5"/><stop offset="0.050" stop-color="#ffffcc"/><stop offset="0.075" stop-color="#ffffb3"/><stop offset="0.100" stop-color="#ffff99"/><stop offset="0.125" stop-color="#ffff80"/><stop offset="0.150" stop-color="#ffff66"/><stop offset="0.175" stop-color="#ffff4d"/><stop offset="0.200" stop-color="#ffff33"/><stop offset="0.225" stop-color="#ffff1a"/><stop offset="0.250" stop-color="#ffff00"/><stop offset="0.275" stop-color="#ffee00"/><stop offset="0.300" stop-color="#ffdd00"/><stop offset="0.325" stop-color="#ffcc00"/><stop offset="0.350" stop-color="#ffbb00"/><stop offset="0.375" stop-color="#ffaa00"/><stop offset="0.400" stop-color="#ff9900"/><stop offset="0.425" stop-color="#ff8800"/><stop offset="0.450" stop-color="#ff7700"/><stop offset="0.475" stop-color="#ff6600"/><stop offset="0.500" stop-color="#ff5500"/><stop offset="0.525" stop-color="#ff4400"/><stop offset="0.550" stop-color="#ff3300"/><stop offset="0.575" stop-color="#ff2200"/><stop offset="0.600" stop-color="#ff1100"/><stop offset="0.625" stop-color="#ff0000"/><stop offset="0.650" stop-color="#ee0000"/><stop offset="0.675" stop-color="#dd0000"/><stop offset="0.700" stop-color="#cc0000"/><stop offset="0.725" stop-color="#bb0000"/><stop offset="0.750" stop-color="#aa0000"/><stop offset="0.775" stop-color="#990000"/><stop offset="0.800" stop-color="#880000"/><stop offset="0.825" stop-color="#770000"/><stop offset="0.850" stop-color="#660000"/><stop offset="0.875" stop-color="#550000"/><stop offset="0.900" stop-color="#440000"/><stop offset="0.925" stop-color="#330000"/><stop offset="0.950" stop-color="#220000"/><stop offset="0.975" stop-color="#110000"/><stop offset="1.000" stop-color="#000000"/></linearGradient><rect x="522.8" y="148" width="3.2" height="61.4" fill="url(#cgf)" stroke="#9a9a9a" stroke-width="0.5"/>
<path d="M383.5,209.4V134.4M383.5,134.4H520.8V209.4" fill="none" stroke="#b4b4b4" stroke-width="0.8"/>
<path d="M383.5,134.4h1.4M383.5,159.4h1.4M383.5,184.4h1.4M383.5,209.4h1.4M390.9,134.4v1.4M421.4,134.4v1.4M452,134.4v1.4M482.6,134.4v1.4M513.1,134.4v1.4" stroke="#777" stroke-width="0.6"/>
<text class="t" x="380.2" y="137" font-size="7.5" text-anchor="end">0</text>
<text class="t" x="380.2" y="162" font-size="7.5" text-anchor="end">0.2</text>
<text class="t" x="380.2" y="187" font-size="7.5" text-anchor="end">0.4</text>
<text class="t" x="380.2" y="212" font-size="7.5" text-anchor="end">0.6</text>
<text class="t" x="390.9" y="220.5" font-size="7.5" text-anchor="middle">-0.5</text>
<text class="t" x="421.4" y="220.5" font-size="7.5" text-anchor="middle">-0.25</text>
<text class="t" x="452" y="220.5" font-size="7.5" text-anchor="middle">0</text>
<text class="t" x="482.6" y="220.5" font-size="7.5" text-anchor="middle">0.25</text>
<text class="t" x="513.1" y="220.5" font-size="7.5" text-anchor="middle">0.5</text>
<text class="l" x="452" y="229.2" font-size="8.5" text-anchor="middle"><tspan font-style="italic">x</tspan>/<tspan font-style="italic">D</tspan></text>
<text class="l" transform="translate(368.5,171.9) rotate(-90)" font-size="8.5" text-anchor="middle" x="0" y="0"><tspan font-style="italic">z</tspan>/<tspan font-style="italic">D</tspan></text>
<text class="p" x="452" y="129.6" font-size="11" text-anchor="middle" font-weight="bold">(f)</text>
<text class="l" x="522.3" y="141.8" font-size="10" text-anchor="start"><tspan font-style="italic">k</tspan>/<tspan font-style="italic">V</tspan><tspan font-size="6.5" dy="2.4">0</tspan><tspan font-size="6.5" dy="-6.2" dx="0.3">2</tspan></text>
<text class="t" x="528.8" y="151.1" font-size="7.5" text-anchor="start">0.3</text>
<text class="t" x="528.8" y="166" font-size="7.5" text-anchor="start">0.25</text>
<text class="t" x="528.8" y="180.6" font-size="7.5" text-anchor="start">0.2</text>
<text class="t" x="528.8" y="195.1" font-size="7.5" text-anchor="start">0.15</text>
<text class="t" x="528.8" y="209.8" font-size="7.5" text-anchor="start">0.1</text>
<clipPath id="clg"><path d="M34.4,251.2 158.4,251.2 165.4,325.5 27.4,325.5 Z"/></clipPath>
<mask id="mclg" maskUnits="userSpaceOnUse" x="0" y="0" width="550" height="351"><path fill="#fff" d="M34.4,251.2 158.4,251.2 165.4,325.5 27.4,325.5 Z"/></mask>
<g mask="url(#mclg)">
<rect x="25.3" y="250.2" width="141.8" height="76.3" fill="#000a80"/>
<path fill-rule="evenodd" fill="#00148c" d="M25.3,250.2 166.8,250.2 166.8,326.2 25.3,326.2 25.3,250.2ZM96.3,256.2 95.8,256.3 95,257.2 94.6,258.2 94.6,259.2 94.7,260.2 95.1,261.2 95.8,261.8 96.3,262 97.2,261.7 97.7,261.2 98.1,260.2 98.3,259.2 98.2,258.2 97.8,257.2 97.3,256.5 96.3,256.2Z"/>
<path fill-rule="evenodd" fill="#1a5ed8" d="M25.3,250.2 93.5,250.2 93.5,252.7 93.9,255.2 93.1,258.2 93.2,260.7 93.7,262.2 94.3,263.2 95.3,264.1 96.3,264.4 97.3,264.2 98.3,263.5 99.1,262.2 99.6,260.7 99.7,258.2 99.5,256.7 98.9,255.2 99.3,252.7 99.3,250.2 166.8,250.2 166.8,326.2 25.3,326.2 25.3,250.2Z"/>
<path fill-rule="evenodd" fill="#4d94f5" d="M25.3,250.2 90.2,250.2 90.5,256.2 91.1,259.2 91.8,261.7 92.8,263.9 93.8,265.3 94.8,266.2 96.3,266.7 97.8,266.4 98.8,265.5 99.8,264.2 100.8,262.2 101.6,259.7 102.2,256.7 102.5,253.7 102.6,250.2 166.8,250.2 166.8,326.2 25.3,326.2 25.3,250.2Z"/>
<path fill-rule="evenodd" fill="#fff6f6" d="M25.3,250.2 89.3,250.2 89.3,254 89.6,255.7 89.8,258.2 90.1,259.2 90.3,260.7 90.6,261.2 91.3,263.8 92.8,266.7 93.3,267.3 94.8,268.7 96.3,269.1 97.8,268.7 98.8,268 100.3,266.2 101.3,264.3 102.3,261.3 103.3,256.2 103.4,250.2 166.8,250.2 166.8,326.2 25.3,326.2 25.3,250.2Z"/>
<path fill-rule="evenodd" fill="#ffe6e6" d="M25.3,250.2 89,250.2 89,254.2 89.3,257.1 89.9,260.7 90.9,264.2 91.8,266.5 93.3,268.8 94.8,270.1 96.3,270.6 97.8,270.2 99.3,269.1 100.8,266.9 101.8,264.6 102.8,261.1 103.4,257.7 103.8,253.4 103.8,250.2 166.8,250.2 166.8,326.2 25.3,326.2 25.3,250.2Z"/>
<path fill-rule="evenodd" fill="#ffd4d4" d="M25.3,250.2 88.7,250.2 88.8,254.7 89.2,258.7 89.8,262.2 90.8,265.6 91.8,268 93.3,270.4 94.8,271.6 96.3,272.1 97.8,271.7 99.3,270.6 100.8,268.4 102,265.7 102.9,262.7 103.6,258.7 104,254.7 104.1,250.2 166.8,250.2 166.8,326.2 25.3,326.2 25.3,250.2Z"/>
<path fill-rule="evenodd" fill="#ffc4c4" d="M25.3,250.2 88.4,250.2 88.5,254.7 88.9,259.2 89.6,263.2 90.6,266.7 91.8,269.7 93.3,272 94.8,273.3 96.3,273.7 97.3,273.6 98.3,273.1 99.7,271.7 101,269.7 102.3,266.7 103.2,263.2 103.9,259.2 104.3,255.2 104.4,250.2 166.8,250.2 166.8,326.2 25.3,326.2 25.3,250.2Z"/>
<path fill-rule="evenodd" fill="#ffb2b2" d="M25.3,250.2 88.1,250.2 88.2,255.2 88.6,259.7 89.3,264.1 90.3,267.9 91.3,270.5 92.8,273.1 94.3,274.7 95.3,275.2 96.3,275.4 97.3,275.3 98.3,274.8 99.8,273.4 101.3,271 102.4,268.2 103.4,264.7 104.1,260.2 104.6,255.2 104.7,250.2 166.8,250.2 166.8,324.4 165.8,321.9 165.3,322 165.2,322.2 164.6,326.2 28.2,326.2 27.8,322.9 27.3,321.8 26.8,322.2 26.3,323.4 25.6,326.2 25.3,326.2 25.3,250.2Z"/>
<path fill-rule="evenodd" fill="#ffa2a2" d="M25.3,250.2 87.8,250.2 87.9,255.7 88.3,260.7 89,265.2 90,269.2 91.3,272.5 92.8,275 94.3,276.5 95.3,277 96.3,277.2 97.3,277.1 98.3,276.7 99.8,275.3 101.3,272.9 102.8,269.2 103.8,265.2 104.5,260.7 104.9,255.7 105,250.2 166.8,250.2 166.8,320.3 165.8,316.8 165.3,315.8 164.8,315.7 164.2,318.2 163.9,326.2 28.9,326.2 28.6,318.2 28.3,316.3 27.8,315.6 27.3,316.1 26.8,317.4 25.3,323.5 25.3,250.2Z"/>
<path fill-rule="evenodd" fill="#ff9090" d="M25.3,250.2 87.4,250.2 87.5,256.2 88,261.7 88.7,266.7 89.8,270.9 91.3,274.7 92.8,277.1 94.3,278.5 95.3,279 96.3,279.2 97.3,279.1 98.3,278.6 99.8,277.3 101.5,274.7 102.9,271.2 104,267.2 104.8,262.2 105.2,256.7 105.4,250.2 166.8,250.2 166.8,316.5 165.3,310.8 164.8,309.7 164.3,309.4 163.9,310.2 163.6,312.2 163.4,315.7 163.3,326.2 29.5,326.2 29.4,314.7 29.2,312.2 28.8,309.8 28.3,309.4 27.8,310.1 27.3,311.4 26.3,315.2 25.3,320 25.3,250.2Z"/>
<path fill-rule="evenodd" fill="#ff8080" d="M25.3,250.2 87.1,250.2 87.2,256.7 87.6,262.7 88.3,267.7 89.4,272.2 90.8,276.1 92.3,278.7 93.3,279.9 94.3,280.7 95.3,281.2 96.3,281.4 97.3,281.2 98.3,280.8 99.3,280.1 100.3,279 101.8,276.5 103.3,272.6 104.4,268.2 105.1,263.2 105.6,257.2 105.7,250.2 166.8,250.2 166.8,312.9 165.8,308.3 164.8,304.8 164.3,303.7 163.8,303.2 163.3,303.9 162.8,307.2 162.7,310.7 162.8,326.2 30,326.2 30.1,310.2 29.8,305.5 29.3,303.4 28.8,303.3 28.3,304 27.8,305.4 26.8,309.1 25.3,316.6 25.3,250.2Z"/>
<path fill-rule="evenodd" fill="#ff6e6e" d="M25.3,250.2 86.7,250.2 86.8,257.2 87.2,263.7 87.9,269.2 89,273.7 90.4,277.7 92.3,281.1 93.3,282.3 94.3,283.1 95.3,283.5 96.3,283.7 97.3,283.6 98.3,283.2 99.3,282.5 100.3,281.4 102.2,278.2 103.7,274.2 104.8,269.6 105.6,264.2 106,257.7 106.1,250.2 166.8,250.2 166.8,309.3 165.3,302.2 164.3,298.7 163.8,297.6 163.3,297 162.7,297.7 162.3,300.2 162,306.2 162.3,326.2 30.5,326.2 30.8,306.2 30.6,300.7 30,297.7 29.8,297.1 29.3,297.2 28.3,299.3 26.8,305.3 25.3,313.2 25.3,250.2Z"/>
<path fill-rule="evenodd" fill="#ff5e5e" d="M25.3,250.2 86.2,250.2 86.3,258.7 86.7,264.7 87.5,270.7 88.6,275.7 89.9,279.7 91.8,283.2 93.8,285.3 94.8,285.9 96.3,286.3 97.8,286 98.8,285.5 100.8,283.5 102.8,279.8 104.2,275.7 105.3,270.7 106.1,265.2 106.5,258.7 106.6,250.2 166.8,250.2 166.8,305.8 165.3,298.2 163.8,292.6 163.3,291.5 162.8,290.9 162.3,291.1 161.9,292.2 161.4,296.7 161.3,303.2 161.8,326.2 31,326.2 31.5,302.7 31.3,295.5 30.8,291.8 30.3,290.9 29.8,291 28.8,293.2 27.3,299.1 25.3,309.8 25.3,250.2Z"/>
<path fill-rule="evenodd" fill="#ff4c4c" d="M25.3,250.2 85.7,250.2 85.8,259.7 86.2,266.2 86.9,272.2 88.1,277.7 89.8,282.7 91.8,286.2 93.8,288.3 94.8,288.8 96.3,289.1 97.8,288.9 98.8,288.4 100.8,286.5 102.8,283.1 104.6,278.2 105.8,272.7 106.6,266.7 107,259.7 107.1,250.2 166.8,250.2 166.8,302.2 164.8,292 163.3,286.6 162.3,284.7 161.8,284.8 161.3,285.9 160.8,290.7 160.6,299.2 160.7,309.7 161.3,326.2 31.5,326.2 32.1,309.2 32.2,298.2 32,289.7 31.8,287.7 31.3,285.3 30.8,284.6 30.3,284.9 29.8,285.8 28.8,288.8 27.3,295.3 25.3,306.4 25.3,250.2Z"/>
<path fill-rule="evenodd" fill="#ff3c3c" d="M25.3,250.2 85.1,250.2 85.2,260.2 85.6,267.7 86.4,274.7 87.6,280.2 89.3,285.3 91.3,289 92.3,290.2 93.8,291.5 94.8,292.1 96.3,292.4 97.8,292.1 98.8,291.7 100.3,290.4 101.3,289.2 102.3,287.7 103.5,285.2 105.2,280.2 106.4,274.7 107.2,268.2 107.6,260.7 107.7,250.2 166.8,250.2 166.8,298.6 164.3,285.7 163.3,281.9 162.3,279.3 161.8,278.6 161.3,278.5 160.8,279.3 160.2,283.7 159.9,290.2 159.9,299.2 160.8,326.2 32,326.2 32.7,307.2 33,294.7 32.8,285.2 32.4,281.7 32.1,279.7 31.8,278.9 31.3,278.4 30.8,278.8 30.3,279.7 29.3,282.6 27.3,291.4 25.3,302.8 25.3,250.2Z"/>
<path fill-rule="evenodd" fill="#ff2a2a" d="M25.3,250.2 84.5,250.2 84.5,262.2 84.9,269.7 85.7,276.7 86.9,282.7 88.7,288.2 90.8,292.2 92,293.7 93.3,294.9 94.8,295.8 96.3,296.1 97.8,295.9 99.3,295.1 100.8,293.7 101.8,292.5 102.9,290.7 104.1,288.2 105.9,282.7 107.1,276.7 108,269.2 108.3,262.2 108.3,250.2 166.8,250.2 166.8,294.7 164.3,281.5 163.3,277.4 162.3,274.3 161.3,272.4 160.8,272.3 160.4,272.7 159.8,274.9 159.5,277.7 159.2,285.2 159.2,295.7 160.3,326.2 32.5,326.2 33.6,295.7 33.6,285.2 33.3,277.4 32.8,273.9 32.3,272.5 31.8,272.3 31.3,272.7 30.3,274.8 29.3,278.1 27.8,284.8 25.3,299 25.3,250.2Z"/>
<path fill-rule="evenodd" fill="#ff1919" d="M25.3,250.2 83.7,250.2 83.7,263.2 84,271.2 84.9,279.2 86.1,285.7 88.1,291.7 89.3,294.4 90.4,296.2 91.8,298 93.3,299.4 94.8,300.1 96.3,300.4 97.8,300.2 99.3,299.5 100.8,298.2 102.3,296.4 103.6,294.2 104.8,291.6 106.7,285.7 107.9,279.2 108.8,271.7 109.1,263.7 109.1,250.2 166.8,250.2 166.8,290.7 164.3,277.1 162.8,271 161.8,268 160.8,266.3 160.3,266.1 159.8,266.5 159.3,268.1 158.8,271.6 158.4,280.2 158.4,291.7 158.8,306.2 159.7,326.2 33.1,326.2 34,304.7 34.4,290.7 34.4,278.7 33.9,270.7 33.3,267.3 32.8,266.3 32.3,266.1 31.8,266.5 30.8,268.5 29.8,271.7 28.3,278.1 25.3,295 25.3,250.2Z"/>
<path fill-rule="evenodd" fill="#ff0808" d="M25.3,250.2 82.8,250.2 82.7,265.2 83,273.7 83.8,282.2 85.2,289.2 86.1,292.7 87.3,296 88.5,298.7 89.8,301 91.3,302.9 92.8,304.3 94.3,305.2 96.3,305.6 98.3,305.3 99.8,304.5 101.3,303.1 102.8,301.3 104.3,298.7 105.4,296.2 107.5,289.7 109,282.2 109.8,274.2 110.1,265.7 110,250.2 166.8,250.2 166.8,286.2 163.8,270.2 162.3,264.5 161.3,261.7 160.3,260.1 159.8,259.9 159.3,260.2 158.6,262.2 158.1,265.7 157.6,274.7 157.6,287.7 158.1,303.2 159.1,326.2 33.7,326.2 34.7,303.7 35.2,287.2 35.2,274.2 34.7,265.2 34.1,261.7 33.8,260.8 33.3,260 32.8,259.9 32.3,260.3 31.3,262.2 29.8,266.9 28.6,272.2 27,280.2 25.3,290.6 25.3,250.2Z"/>
<path fill-rule="evenodd" fill="#fb0000" d="M25.3,250.2 81.7,250.2 81.5,267.7 81.7,276.2 82.5,285.7 84,293.7 85,297.7 86.3,301.3 87.8,304.7 89.3,307.3 90.8,309.2 92.8,311 94.3,311.8 96.3,312.2 98.3,311.9 99.8,311.1 101.8,309.4 103.3,307.6 104.8,305.1 106.3,301.9 107.6,298.2 108.7,294.2 110.2,286.2 111.1,276.7 111.3,267.7 111.1,250.2 166.8,250.2 166.8,281.2 165.1,271.7 163.7,264.7 162.3,259.4 160.8,255.3 159.8,253.8 159.3,253.7 158.8,254 158.3,254.8 157.9,256.2 157.3,259.8 156.8,269.7 156.8,283.7 157.2,299.7 158.4,326.2 34.4,326.2 35.6,300.7 36.1,283.2 36,268.7 35.4,259.2 34.8,255.7 34.3,254.4 33.8,253.8 33.3,253.7 32.8,254 32.3,254.7 31.3,257 29.8,261.9 28.6,267.2 25.3,285.5 25.3,250.2Z"/>
<path fill-rule="evenodd" fill="#f20000" d="M25.3,250.2 31.7,250.2 30.1,255.2 28.6,261.2 27,269.2 25.3,279.5 25.3,250.2ZM35.6,250.2 80.1,250.2 79.7,271.2 79.9,280.7 80.9,291.2 82.5,300.2 83.6,304.7 85,308.7 86.5,312.2 88.3,315.3 90.3,317.9 92.3,319.7 94.3,320.7 96.3,321.1 98.3,320.8 100.3,319.8 102.3,318.1 104.3,315.6 106,312.7 107.6,309.2 109,305.2 110.3,300.2 112,290.7 112.9,280.2 113.1,270.7 112.7,250.2 157.2,250.2 156.5,253.2 156,258.2 155.7,265.2 155.7,273.7 156.1,294.7 157.5,326.2 35.3,326.2 36.6,295.7 37.1,273.7 37.1,265.2 36.8,258.2 36.3,253.2 35.6,250.2ZM161.1,250.2 166.8,250.2 166.8,275.1 164,260.2 162.7,255.2 161.1,250.2Z"/>
<path fill-rule="evenodd" fill="#ea0000" d="M25.3,250.2 29.4,250.2 27.4,259.2 25.3,271.4 25.3,250.2ZM37.8,250.2 77.9,250.2 77,279.7 77.2,288.2 77.9,296.7 79.2,305.7 80.9,313.7 83.2,320.7 85.8,326.2 36.5,326.2 37.9,293.7 38.4,276.2 38.4,260.2 38.1,253.7 37.8,250.2ZM114.9,250.2 155,250.2 154.7,254.2 154.4,260.2 154.5,277.7 155,296.2 156.3,326.2 107,326.2 109.8,320.2 112,313.2 113.7,305.2 115,296.2 115.6,288.2 115.8,279.7 114.9,250.2ZM163.4,250.2 166.8,250.2 166.8,267.2 165.1,258.2 163.4,250.2Z"/>
<path fill-rule="evenodd" fill="#e10000" d="M25.3,250.2 26.5,250.2 25.3,256.7 25.3,250.2ZM40.5,250.2 74.6,250.2 74.4,256.2 74,262.2 71.2,283.7 70.6,293.2 70.7,300.7 71.2,309.7 72,318.7 73.1,326.2 38.6,326.2 38.8,313.2 40,295.2 40.5,281.7 40.8,262.2 40.5,250.2ZM118.2,250.2 152.3,250.2 152,261.7 152.2,279.7 152.7,293.7 154.1,314.2 154.2,326.2 119.7,326.2 120.7,318.7 121.6,309.7 122.1,300.7 122.2,293.2 121.6,283.7 118.8,262.2 118.4,256.2 118.2,250.2ZM166.3,250.2 166.8,250.2 166.8,253 166.3,250.2Z"/>
<path fill-rule="evenodd" fill="#d90000" d="M53.8,250.2 71.3,250.2 71.2,254.7 70.9,258.7 70.2,262.7 69.3,266.3 68.2,269.2 66.8,271.9 65.3,273.7 63.8,274.7 62.8,275 61.8,274.9 60.8,274.6 59.8,274 58.8,273 57.9,271.7 56.4,268.7 55.1,264.7 54.4,260.7 53.9,255.7 53.8,250.2ZM121.5,250.2 139,250.2 138.9,254.7 138.7,258.7 138.1,262.7 137.3,266.2 136.2,269.2 134.8,271.9 133.3,273.7 131.8,274.7 130.8,275 129.8,274.9 128.8,274.6 127.8,273.9 126.8,272.9 125.8,271.6 124.4,268.7 123.1,264.7 122.1,260.2 121.6,255.2 121.5,250.2ZM51,297.7 52.8,297.5 54.3,297.7 55.8,298.4 57.3,299.6 58.7,301.2 59.8,303.1 60.7,305.2 61.4,307.7 61.8,310.2 61.9,313.2 61.8,315.7 61.4,318.2 60.7,320.7 59.8,322.7 58.6,324.7 57.4,326.2 46.2,326.2 45,324.7 44.1,323.2 42.9,319.7 42.4,316.2 42.4,312.7 42.9,309.2 43.8,305.7 45.2,302.7 46.8,300.5 48.8,298.7 51,297.7ZM138.6,297.7 140.3,297.5 141.8,297.7 143.3,298.3 144.8,299.3 146.3,300.9 147.6,302.7 148.6,304.7 149.5,307.2 150,309.7 150.4,312.7 150.4,315.7 150.2,318.2 149.6,320.7 148.9,322.7 147.8,324.7 146.6,326.2 135.4,326.2 134.3,324.9 133.2,323.2 132.3,321.2 131.7,319.2 131,315.7 130.9,312.2 131.2,309.2 132,305.7 133.2,302.7 134.8,300.3 136.8,298.5 138.6,297.7Z"/>
<path fill-rule="evenodd" fill="#d00000" d="M57,250.2 68.8,250.2 68.6,255.7 67.6,260.7 66.8,262.9 65.8,264.8 64.8,266 63.8,266.7 62.3,266.9 61.3,266.5 59.8,264.9 58.8,263 57.9,260.2 57.3,257.2 57,253.7 57,250.2ZM124,250.2 135.8,250.2 135.6,256.2 134.6,261.2 133.8,263.4 132.8,265.2 131.8,266.3 130.8,266.8 129.3,266.8 128.3,266.3 126.8,264.5 125.8,262.5 124.9,259.7 124.3,256.7 124,253.7 124,250.2ZM50.9,303.7 52.3,303.4 53.3,303.4 54.8,304.1 55.8,304.9 56.8,306.2 57.5,307.7 58.1,309.7 58.4,311.7 58.4,313.7 58.2,315.7 57.7,317.7 57,319.2 56,320.7 54.8,321.9 53.8,322.5 52.3,322.9 50.8,322.7 49.8,322.3 48.1,320.7 46.7,318.2 46.3,316.7 46,314.7 46.2,311.2 47.3,307.7 48.8,305.3 49.8,304.3 50.9,303.7ZM138.7,303.7 139.8,303.4 141.3,303.5 142.8,304.2 143.8,305.1 144.8,306.3 145.8,308.2 146.7,311.7 146.8,313.7 146.7,315.7 146.3,317.7 145.7,319.2 144.8,320.6 143.8,321.7 142.8,322.4 141.3,322.8 139.8,322.8 138.8,322.4 137.8,321.7 136.8,320.8 135.3,318.2 134.5,315.2 134.4,311.7 135.1,308.2 135.8,306.6 136.8,305.2 137.8,304.2 138.7,303.7Z"/>
<path fill-rule="evenodd" fill="#c80000" d="M59.4,250.2 66.4,250.2 66.3,253.7 65.7,256.7 64.8,258.9 64.3,259.7 63.3,260.4 62.3,260.3 61.8,260 61.1,259.2 60.4,257.7 59.6,254.2 59.4,250.2ZM126.4,250.2 133.4,250.2 133.3,253.7 132.7,256.7 131.8,259 131.3,259.7 130.3,260.4 129.3,260.3 128.8,260 128.2,259.2 127.4,257.7 126.6,254.2 126.4,250.2ZM51.6,308.7 52.8,308.6 53.9,309.2 54.8,310.7 55.2,312.7 55,314.7 54.4,316.2 53.3,317.4 52.3,317.7 51.3,317.5 50.3,316.7 49.6,315.2 49.3,313.7 49.4,312.2 49.9,310.7 50.8,309.2 51.6,308.7ZM139.6,308.7 140.8,308.6 141.8,309.1 142.8,310.4 143.4,312.2 143.4,314.2 142.8,316.2 141.8,317.3 140.8,317.7 139.8,317.5 138.7,316.7 137.9,315.2 137.6,313.7 137.6,312.2 138,310.7 138.8,309.3 139.6,308.7Z"/>
</g>

<linearGradient id="cgg" x1="0" y1="0" x2="0" y2="1"><stop offset="0.000" stop-color="#800000"/><stop offset="0.025" stop-color="#870000"/><stop offset="0.050" stop-color="#8e0000"/><stop offset="0.075" stop-color="#950000"/><stop offset="0.100" stop-color="#9d0000"/><stop offset="0.125" stop-color="#a40000"/><stop offset="0.150" stop-color="#ab0000"/><stop offset="0.175" stop-color="#b20000"/><stop offset="0.200" stop-color="#ba0000"/><stop offset="0.225" stop-color="#c10000"/><stop offset="0.250" stop-color="#c80000"/><stop offset="0.275" stop-color="#cf0000"/><stop offset="0.300" stop-color="#d70000"/><stop offset="0.325" stop-color="#de0000"/><stop offset="0.350" stop-color="#e50000"/><stop offset="0.375" stop-color="#ed0000"/><stop offset="0.400" stop-color="#f40000"/><stop offset="0.425" stop-color="#fb0000"/><stop offset="0.450" stop-color="#ff0707"/><stop offset="0.475" stop-color="#ff1515"/><stop offset="0.500" stop-color="#ff2424"/><stop offset="0.525" stop-color="#ff3232"/><stop offset="0.550" stop-color="#ff4141"/><stop offset="0.575" stop-color="#ff4f4f"/><stop offset="0.600" stop-color="#ff5e5e"/><stop offset="0.625" stop-color="#ff6c6c"/><stop offset="0.650" stop-color="#ff7b7b"/><stop offset="0.675" stop-color="#ff8989"/><stop offset="0.700" stop-color="#ff9898"/><stop offset="0.725" stop-color="#ffa7a7"/><stop offset="0.750" stop-color="#ffb5b5"/><stop offset="0.775" stop-color="#ffc4c4"/><stop offset="0.800" stop-color="#ffd2d2"/><stop offset="0.825" stop-color="#ffe1e1"/><stop offset="0.850" stop-color="#ffefef"/><stop offset="0.875" stop-color="#fffefe"/><stop offset="0.900" stop-color="#a0d0ff"/><stop offset="0.925" stop-color="#389cff"/><stop offset="0.950" stop-color="#0068e7"/><stop offset="0.975" stop-color="#0034b3"/><stop offset="1.000" stop-color="#000080"/></linearGradient><rect x="166.1" y="264.9" width="3.4" height="60.6" fill="url(#cgg)" stroke="#9a9a9a" stroke-width="0.5"/>
<path d="M26.3,325.5V251.2M26.3,251.2H166.1V325.5" fill="none" stroke="#b4b4b4" stroke-width="0.8"/>
<path d="M26.3,251.2h1.4M26.3,276h1.4M26.3,300.7h1.4M26.3,325.5h1.4M34.4,251.2v1.4M65.4,251.2v1.4M96.4,251.2v1.4M127.4,251.2v1.4M158.4,251.2v1.4" stroke="#777" stroke-width="0.6"/>
<text class="t" x="23" y="253.8" font-size="7.5" text-anchor="end">0</text>
<text class="t" x="23" y="278.6" font-size="7.5" text-anchor="end">0.2</text>
<text class="t" x="23" y="303.3" font-size="7.5" text-anchor="end">0.4</text>
<text class="t" x="23" y="328.1" font-size="7.5" text-anchor="end">0.6</text>
<text class="t" x="34.4" y="336.6" font-size="7.5" text-anchor="middle">-0.5</text>
<text class="t" x="65.4" y="336.6" font-size="7.5" text-anchor="middle">-0.25</text>
<text class="t" x="96.4" y="336.6" font-size="7.5" text-anchor="middle">0</text>
<text class="t" x="127.4" y="336.6" font-size="7.5" text-anchor="middle">0.25</text>
<text class="t" x="158.4" y="336.6" font-size="7.5" text-anchor="middle">0.5</text>
<text class="l" x="96.4" y="345.3" font-size="8.5" text-anchor="middle"><tspan font-style="italic">x</tspan>/<tspan font-style="italic">D</tspan></text>
<text class="l" transform="translate(10.8,288.4) rotate(-90)" font-size="8.5" text-anchor="middle" x="0" y="0"><tspan font-style="italic">z</tspan>/<tspan font-style="italic">D</tspan></text>
<text class="p" x="96.4" y="245.3" font-size="11" text-anchor="middle" font-weight="bold">(g)</text>
<text class="l" x="165.1" y="259.9" font-size="10" text-anchor="start"><tspan font-style="italic">V</tspan><tspan font-size="6.5" dy="2.2" font-style="italic">z</tspan><tspan dy="-2.2">/</tspan><tspan font-style="italic">V</tspan><tspan font-size="6.5" dy="2.2">0</tspan></text>
<text class="t" x="172.3" y="268.1" font-size="7.5" text-anchor="start">1.5</text>
<text class="t" x="172.3" y="285.5" font-size="7.5" text-anchor="start">1</text>
<text class="t" x="172.3" y="303" font-size="7.5" text-anchor="start">0.5</text>
<text class="t" x="172.3" y="320.5" font-size="7.5" text-anchor="start">0</text>
<clipPath id="clh"><path d="M211.4,251.2 336,251.2 343,325.5 204.4,325.5 Z"/></clipPath>
<mask id="mclh" maskUnits="userSpaceOnUse" x="0" y="0" width="550" height="351"><path fill="#fff" d="M211.4,251.2 336,251.2 343,325.5 204.4,325.5 Z"/></mask>
<g mask="url(#mclh)">
<rect x="203.3" y="250.2" width="141.1" height="76.3" fill="#000080"/>
<path fill-rule="evenodd" fill="#000d8c" d="M207.3,250.2 344.3,250.2 344.3,326.2 207.2,326.2 207.9,303.7 208.2,287.7 207.9,259.2 207.3,250.2Z"/>
<path fill-rule="evenodd" fill="#001999" d="M209.7,250.2 344.3,250.2 344.3,326.2 208.2,326.2 209.2,303.7 209.8,286.2 209.9,267.2 209.7,250.2Z"/>
<path fill-rule="evenodd" fill="#0026a6" d="M211.4,250.2 344.3,250.2 344.3,326.2 209.1,326.2 210.5,300.7 211.2,284.7 211.6,264.2 211.4,250.2Z"/>
<path fill-rule="evenodd" fill="#0033b2" d="M213.1,250.2 344.3,250.2 344.3,326.2 210.1,326.2 211.8,295.7 213.2,264.7 213.3,260.2 213.1,250.2Z"/>
<path fill-rule="evenodd" fill="#0040bf" d="M214.7,250.2 344.3,250.2 344.3,326.2 211.1,326.2 214.7,263.7 214.7,250.2Z"/>
<path fill-rule="evenodd" fill="#004dcc" d="M216.1,250.2 344.3,250.2 344.3,326.2 212.2,326.2 215.2,274.2 216.4,262.7 216.1,250.2Z"/>
<path fill-rule="evenodd" fill="#0059d9" d="M217.6,250.2 344.3,250.2 344.3,326.2 213.4,326.2 216.5,274.2 217.2,269.2 218.6,262.7 218.6,260.7 217.8,255.2 217.6,250.2Z"/>
<path fill-rule="evenodd" fill="#0066e6" d="M219,250.2 344.3,250.2 344.3,326.2 214.7,326.2 217.6,278.2 218.1,272.7 218.8,269.7 219.5,268.2 220.8,266.5 223.5,264.2 224.1,263.2 224.3,262.2 223.8,260.7 220.8,257.8 219.9,256.2 219.3,254.1 219,250.2Z"/>
<path fill-rule="evenodd" fill="#0073f2" d="M220.7,250.2 344.3,250.2 344.3,326.2 216.4,326.2 219.1,279.7 219.6,274.2 220.3,271.7 221.2,269.7 222.3,268.4 224.3,266.5 225.8,265.6 226.8,264.8 227.5,263.7 227.7,262.2 227.4,260.7 226.8,259.7 224.8,258.3 222.1,255.2 221.2,253.2 220.7,250.2Z"/>
<path fill-rule="evenodd" fill="#0080ff" d="M222.6,250.2 344.3,250.2 344.3,326.2 218.4,326.2 220.9,280.7 221.4,275.2 222,272.7 223,270.7 224.3,269 226.8,267.4 228.1,266.2 229,264.7 229.5,262.7 229.4,260.7 228.8,259.2 227.3,257.4 225.3,256.1 224.5,255.2 223.3,253.1 222.6,250.2Z"/>
<path fill-rule="evenodd" fill="#1a8cff" d="M224.5,250.2 344.3,250.2 344.3,326.2 220.5,326.2 222.7,281.2 223.2,275.7 223.7,273.7 224.3,272.1 224.8,271.5 227.8,269.1 229.8,266.7 230.7,264.7 231,262.7 230.8,260.2 230.1,258.2 228.3,255.7 225.3,253 224.5,250.2Z"/>
<path fill-rule="evenodd" fill="#3399ff" d="M227.5,250.2 344.3,250.2 344.3,326.2 223.5,326.2 225.3,282.7 225.7,278.2 226.1,276.2 226.8,274.2 230.3,269.2 231.4,267.2 232.1,265.2 232.6,262.7 232.4,260.2 231.7,257.7 230.8,255.7 228.6,252.2 227.5,250.2Z"/>
<path fill-rule="evenodd" fill="#4da6ff" d="M231.3,250.2 344.3,250.2 344.3,326.2 228.4,326.2 230,278.2 230.7,274.2 233.6,266.7 234.1,264.7 234.3,262.7 234.2,260.2 233.8,258.2 231.3,250.2Z"/>
<path fill-rule="evenodd" fill="#66b2ff" d="M235,250.2 344.3,250.2 344.3,326.2 283.6,326.2 283.6,293.2 283.3,288.3 282.8,287.6 282.5,290.2 282.3,294.4 282.3,326.2 233.2,326.2 234.3,277.7 234.7,273.7 236.1,266.2 236.4,262.7 236.2,258.7 235,250.2Z"/>
<path fill-rule="evenodd" fill="#80bfff" d="M238.5,250.2 344.3,250.2 344.3,326.2 284.9,326.2 284.8,287 284.5,283.7 284.1,281.7 283.5,280.2 282.8,279.8 282.3,280.2 281.7,281.7 281.3,283.7 281.1,287.2 281,326.2 237.5,326.2 238.2,276.7 238.8,262.7 238.5,250.2Z"/>
<path fill-rule="evenodd" fill="#99ccff" d="M241.8,250.2 344.3,250.2 344.3,326.2 285.8,326.2 285.8,293.2 285.6,284.7 285.3,281.3 284.8,279 283.8,277 283.3,276.5 282.8,276.4 282.3,276.5 281.8,276.9 280.9,278.7 280.4,281.2 280.1,284.2 280,326.2 241.2,326.2 241.8,250.2Z"/>
<path fill-rule="evenodd" fill="#b2d9ff" d="M245.1,250.2 344.3,250.2 344.3,326.2 286.7,326.2 286.7,290.7 286.4,282.2 285.9,278.2 284.9,275.2 283.8,273.6 282.8,273 282.3,273 281.2,273.7 280.2,275.7 279.6,278.2 279.2,281.7 279.1,288.2 279.1,326.2 244.8,326.2 245.1,250.2Z"/>
<path fill-rule="evenodd" fill="#cce6ff" d="M248.4,250.2 273.7,250.2 274,254.2 275.3,261.6 275.8,263.1 277.8,267.2 278.4,269.7 277.8,282.2 278,326.2 248.4,326.2 248.4,250.2ZM283.1,250.2 344.3,250.2 344.3,326.2 287.8,326.2 287.8,290.7 287.6,282.2 287.1,277.7 286.3,274.2 285.3,271.3 283,266.7 282.5,264.7 282.5,262.2 283,254.7 283.1,250.2Z"/>
<path fill-rule="evenodd" fill="#e6f2ff" d="M251.1,250.2 267.9,250.2 268.1,255.7 268.7,261.2 270.3,268.2 271.8,273 272.3,271.8 273.2,264.7 273.3,264.1 273.8,263.7 274.3,266.2 274.6,269.7 275.5,290.2 275.7,326.2 251.1,326.2 251.1,250.2ZM288.6,250.2 344.3,250.2 344.3,326.2 289.6,326.2 289.5,283.2 289.2,277.2 288.3,269.2 288.1,265.7 288.6,250.2Z"/>
<path fill-rule="evenodd" fill="#ffffff" d="M253.7,250.2 262.4,250.2 262.6,258.2 263.2,262.7 264.1,265.2 266.8,270.3 268.1,273.7 268.7,276.2 269.5,281.7 269.8,288.7 270,326.2 253.7,326.2 253.7,250.2ZM294.7,250.2 344.3,250.2 344.3,326.2 294.6,326.2 294.7,250.2ZM273.7,269.7 273.8,269.4 274.2,273.2 274.4,282.2 274.6,326.2 272.8,326.2 272.9,281.2 273.2,272.2 273.3,270.9 273.7,269.7Z"/>
<path fill-rule="evenodd" fill="#ffe6e6" d="M298.1,250.2 344.3,250.2 344.3,326.2 298,326.2 298.1,250.2ZM263.7,272.7 264.3,272.5 264.8,272.6 265.8,273.5 266.3,274.3 267.5,277.7 268.1,281.7 268.5,291.7 268.6,326.2 260.2,326.2 260.2,292.7 260.4,282.7 260.9,278.7 261.5,276.2 262.6,273.7 263.7,272.7ZM273.8,281.2 274,326.2 273.4,326.2 273.5,294.2 273.8,281.2Z"/>
<path fill-rule="evenodd" fill="#ffcccc" d="M300.4,250.2 344.3,250.2 344.3,326.2 300.6,326.2 300.4,250.2ZM264.3,276.2 264.8,276.2 265.3,276.4 266.3,278.1 266.9,280.7 267.3,284.2 267.6,293.7 267.6,326.2 261.7,326.2 261.7,294.2 261.9,284.7 262.2,281.2 262.8,278.7 263.3,277.2 264.3,276.2Z"/>
<path fill-rule="evenodd" fill="#ffb2b2" d="M302.4,250.2 344.3,250.2 344.3,326.2 302.7,326.2 302.4,250.2ZM264.2,280.2 264.8,279.8 265.3,280.1 265.8,281.2 266.3,283.8 266.5,286.7 266.7,295.7 266.7,326.2 262.8,326.2 262.9,288.7 263.3,283 263.8,280.9 264.2,280.2Z"/>
<path fill-rule="evenodd" fill="#ff9999" d="M304.4,250.2 344.3,250.2 344.3,326.2 304.9,326.2 304.4,250.2ZM264.8,287.7 265.3,289.9 265.4,294.2 265.5,326.2 264.1,326.2 264.2,294.2 264.3,290.1 264.8,287.7Z"/>
<path fill-rule="evenodd" fill="#ff8080" d="M306.5,250.2 344.3,250.2 344.3,326.2 307.3,326.2 306.5,250.2Z"/>
<path fill-rule="evenodd" fill="#ff6666" d="M308.6,250.2 344.3,250.2 344.3,326.2 309.6,326.2 308.6,263.7 308.6,250.2Z"/>
<path fill-rule="evenodd" fill="#ff4d4d" d="M310.8,250.2 344.3,250.2 344.3,326.2 312.1,326.2 311.3,277.7 310.5,263.7 310.8,250.2Z"/>
<path fill-rule="evenodd" fill="#ff3333" d="M314.1,250.2 344.3,250.2 344.3,326.2 316,326.2 314.8,278.7 314.4,274.7 313,267.2 312.7,263.7 312.9,260.2 313.8,253.7 314.1,250.2Z"/>
<path fill-rule="evenodd" fill="#ff1a1a" d="M317.2,250.2 344.3,250.2 344.3,326.2 319.9,326.2 318.3,279.2 317.6,275.2 315,267.2 314.5,263.7 314.9,259.7 316.7,253.2 317.2,250.2Z"/>
<path fill-rule="evenodd" fill="#ff0000" d="M320.2,250.2 344.3,250.2 344.3,326.2 323.5,326.2 321.4,278.7 321,276.2 320.5,274.7 317.8,269.9 316.8,267.7 316.3,265.7 316.1,263.7 316.1,261.7 316.7,259.2 319.6,252.7 320.2,250.2Z"/>
<path fill-rule="evenodd" fill="#f20000" d="M322.7,250.2 344.3,250.2 344.3,326.2 326.5,326.2 324.4,283.2 324,278.2 323.6,276.2 322.8,274.2 321.6,272.2 319.3,269.1 318.3,267.3 317.8,265.7 317.5,263.7 317.6,261.7 318.2,259.7 318.9,258.2 321.6,253.7 322.3,252.2 322.7,250.2Z"/>
<path fill-rule="evenodd" fill="#e60000" d="M325.3,250.2 344.3,250.2 344.3,326.2 329.3,326.2 327,282.2 326.5,277.2 326,275.2 325,273.2 321.3,269.1 319.8,267 319.1,265.2 318.8,263.7 319,261.7 319.6,260.2 320.8,258.2 323.3,255.2 324.3,253.7 324.9,252.2 325.3,250.2Z"/>
<path fill-rule="evenodd" fill="#d90000" d="M327.8,250.2 344.3,250.2 344.3,326.2 331.7,326.2 329.3,281.2 328.8,276.1 328.2,273.7 327.4,272.2 326.3,271 323.3,268.8 321.8,267.3 320.8,265.6 320.4,263.7 320.6,261.7 321.6,259.7 322.8,258.4 325.6,256.2 326.8,254.7 327.5,252.7 327.8,250.2Z"/>
<path fill-rule="evenodd" fill="#cc0000" d="M329.9,250.2 344.3,250.2 344.3,326.2 333.5,326.2 331,279.2 330.4,273.7 329.8,271.2 328.8,269.3 327.8,268.6 324.8,267.3 323.8,266.7 322.6,265.2 322.1,263.7 322.3,262.2 323.3,260.7 324.8,259.7 327.8,258.4 328.5,257.7 329.2,256.2 329.5,254.7 329.9,250.2Z"/>
<path fill-rule="evenodd" fill="#bf0000" d="M332,250.2 344.3,250.2 344.3,326.2 335,326.2 332.4,275.2 331.8,270.3 330.4,265.2 330.1,263.7 331.6,256.7 332,250.2Z"/>
<path fill-rule="evenodd" fill="#b20000" d="M334.5,250.2 344.3,250.2 344.3,326.2 336.3,326.2 335,299.2 334.1,274.7 333.4,264.7 333.7,257.2 334.5,250.2Z"/>
<path fill-rule="evenodd" fill="#a60000" d="M338,250.2 344.3,250.2 344.3,326.2 337.6,326.2 336.4,298.7 336.1,283.2 336.5,267.2 338,250.2Z"/>
<path fill-rule="evenodd" fill="#990000" d="M342.3,250.2 344.3,250.2 344.3,326.2 338.9,326.2 338.4,309.7 338.6,294.2 338.9,288.7 339.6,283.2 341,275.2 342.1,271.2 342.4,268.7 342.6,262.2 342.3,250.2Z"/>
<path fill-rule="evenodd" fill="#8c0000" d="M342.3,306.7 342.8,306.2 343.3,306.4 344.3,307.6 344.3,326.2 340.6,326.2 340.8,317.2 341,312.7 341.6,308.7 342.3,306.7Z"/>
</g>

<linearGradient id="cgh" x1="0" y1="0" x2="0" y2="1"><stop offset="0.000" stop-color="#800000"/><stop offset="0.025" stop-color="#8c0000"/><stop offset="0.050" stop-color="#990000"/><stop offset="0.075" stop-color="#a60000"/><stop offset="0.100" stop-color="#b20000"/><stop offset="0.125" stop-color="#bf0000"/><stop offset="0.150" stop-color="#cc0000"/><stop offset="0.175" stop-color="#d90000"/><stop offset="0.200" stop-color="#e50000"/><stop offset="0.225" stop-color="#f20000"/><stop offset="0.250" stop-color="#ff0000"/><stop offset="0.275" stop-color="#ff1a1a"/><stop offset="0.300" stop-color="#ff3333"/><stop offset="0.325" stop-color="#ff4c4c"/><stop offset="0.350" stop-color="#ff6666"/><stop offset="0.375" stop-color="#ff8080"/><stop offset="0.400" stop-color="#ff9999"/><stop offset="0.425" stop-color="#ffb3b3"/><stop offset="0.450" stop-color="#ffcccc"/><stop offset="0.475" stop-color="#ffe5e5"/><stop offset="0.500" stop-color="#ffffff"/><stop offset="0.525" stop-color="#e5f2ff"/><stop offset="0.550" stop-color="#cce6ff"/><stop offset="0.575" stop-color="#b2d9ff"/><stop offset="0.600" stop-color="#99ccff"/><stop offset="0.625" stop-color="#80bfff"/><stop offset="0.650" stop-color="#66b2ff"/><stop offset="0.675" stop-color="#4da6ff"/><stop offset="0.700" stop-color="#3399ff"/><stop offset="0.725" stop-color="#1a8cff"/><stop offset="0.750" stop-color="#0080ff"/><stop offset="0.775" stop-color="#0073f2"/><stop offset="0.800" stop-color="#0066e6"/><stop offset="0.825" stop-color="#0059d9"/><stop offset="0.850" stop-color="#004dcc"/><stop offset="0.875" stop-color="#0040bf"/><stop offset="0.900" stop-color="#0033b2"/><stop offset="0.925" stop-color="#0026a6"/><stop offset="0.950" stop-color="#001999"/><stop offset="0.975" stop-color="#000d8c"/><stop offset="1.000" stop-color="#000080"/></linearGradient><rect x="343.5" y="265.1" width="3.2" height="60.4" fill="url(#cgh)" stroke="#9a9a9a" stroke-width="0.5"/>
<path d="M204.3,325.5V251.2M204.3,251.2H343.4V325.5" fill="none" stroke="#b4b4b4" stroke-width="0.8"/>
<path d="M204.3,251.2h1.4M204.3,276h1.4M204.3,300.7h1.4M204.3,325.5h1.4M211.4,251.2v1.4M242.5,251.2v1.4M273.7,251.2v1.4M304.8,251.2v1.4M336,251.2v1.4" stroke="#777" stroke-width="0.6"/>
<text class="t" x="201" y="253.8" font-size="7.5" text-anchor="end">0</text>
<text class="t" x="201" y="278.6" font-size="7.5" text-anchor="end">0.2</text>
<text class="t" x="201" y="303.3" font-size="7.5" text-anchor="end">0.4</text>
<text class="t" x="201" y="328.1" font-size="7.5" text-anchor="end">0.6</text>
<text class="t" x="211.4" y="336.6" font-size="7.5" text-anchor="middle">-0.5</text>
<text class="t" x="242.5" y="336.6" font-size="7.5" text-anchor="middle">-0.25</text>
<text class="t" x="273.7" y="336.6" font-size="7.5" text-anchor="middle">0</text>
<text class="t" x="304.8" y="336.6" font-size="7.5" text-anchor="middle">0.25</text>
<text class="t" x="336" y="336.6" font-size="7.5" text-anchor="middle">0.5</text>
<text class="l" x="273.7" y="345.3" font-size="8.5" text-anchor="middle"><tspan font-style="italic">x</tspan>/<tspan font-style="italic">D</tspan></text>
<text class="l" transform="translate(189.9,288.4) rotate(-90)" font-size="8.5" text-anchor="middle" x="0" y="0"><tspan font-style="italic">z</tspan>/<tspan font-style="italic">D</tspan></text>
<text class="p" x="273.7" y="245.3" font-size="11" text-anchor="middle" font-weight="bold">(h)</text>
<text class="l" x="342.5" y="259.9" font-size="10" text-anchor="start"><tspan font-style="italic">V</tspan><tspan font-size="6.5" dy="2.2" font-style="italic">y</tspan><tspan dy="-2.2">/</tspan><tspan font-style="italic">V</tspan><tspan font-size="6.5" dy="2.2">0</tspan></text>
<text class="t" x="349.5" y="268.1" font-size="7.5" text-anchor="start">0.5</text>
<text class="t" x="349.5" y="298.2" font-size="7.5" text-anchor="start">0</text>
<text class="t" x="349.5" y="328.6" font-size="7.5" text-anchor="start">-0.5</text>
<clipPath id="cli"><path d="M390.9,250.8 513.1,250.8 519.9,325.5 384.1,325.5 Z"/></clipPath>
<mask id="mcli" maskUnits="userSpaceOnUse" x="0" y="0" width="550" height="351"><path fill="#fff" d="M390.9,250.8 513.1,250.8 519.9,325.5 384.1,325.5 Z"/></mask>
<g mask="url(#mcli)">
<rect x="382.5" y="249.8" width="139.3" height="76.7" fill="#110000"/>
<path fill-rule="evenodd" fill="#330000" d="M382.5,249.8 521.5,249.8 521.5,326.3 501.9,326.3 501.1,321.3 499.9,316.3 498.7,312.3 495.5,303.7 495,303.8 494.3,310.3 494,317.3 493.9,326.3 410.1,326.3 410,317.3 409.7,310.3 409,303.8 408.5,303.7 405.3,312.3 404.1,316.3 402.9,321.3 402.1,326.3 382.5,326.3 382.5,249.8Z"/>
<path fill-rule="evenodd" fill="#550000" d="M382.5,249.8 403,249.8 404,252.4 404.5,253 405,252.5 405.5,252.3 406,252.5 406.5,253.1 407.2,254.8 407.7,257.3 408,260.4 408,264.3 407.6,268.3 407,270.9 406.5,272.3 405.5,273.9 405,274.1 404.5,274.1 403.5,273.4 402.5,275.8 400.1,280.3 399,282.8 398,286 397,290.4 396,296.5 395,304.8 393.1,326.3 382.5,326.3 382.5,249.8ZM501,249.8 521.5,249.8 521.5,326.3 510.9,326.3 509.8,313.3 508.7,301.8 507.5,293.1 506.3,287.3 505.5,284.3 504.5,281.5 501.5,275.8 500.5,273.4 499.5,274.1 499,274.1 498,273.3 497.5,272.3 496.9,270.3 496.3,267.3 496,264.1 496,260.8 496.2,257.8 496.7,255.3 497.4,253.3 498,252.5 498.5,252.3 499,252.5 499.5,253 500,252.4 501,249.8ZM450.6,253.8 452.5,253.7 454,253.9 456,254.5 457.5,255.2 459.5,256.8 461.8,259.8 463.6,263.3 464.9,267.3 465.7,272.3 466,278.3 466.1,285.3 465.7,290.8 464.7,296.3 463.2,300.8 460.8,305.3 458,308.9 455.5,310.2 452.5,310.8 450.5,310.7 449,310.3 446,308.9 444.2,306.8 442.5,304.2 440.6,300.3 439.3,296.3 438.3,291.3 437.9,285.8 437.9,278.8 438.3,272.3 439.1,267.3 440.2,263.8 442.2,259.8 443.5,257.9 445,256.3 446,255.4 447.5,254.7 450.6,253.8Z"/>
<path fill-rule="evenodd" fill="#770000" d="M389.3,249.8 399.2,249.8 399.3,250.8 398.9,252.8 397.5,257 396.2,268.8 394.6,278.3 393,284.6 390.5,291.4 389.8,287.3 389.4,280.3 389.4,270.8 390,257.3 389.2,252.3 389.3,249.8ZM504.8,249.8 514.7,249.8 514.8,252.3 514,257.3 514.6,270.8 514.6,280.3 514.2,287.3 513.5,291.4 511,284.6 509.3,277.8 507.8,268.8 506.6,257.3 504.9,252.3 504.7,250.8 504.8,249.8ZM450.6,257.3 453,257.2 455.5,257.9 458,259.4 459.5,261.1 461.2,263.8 462.2,266.3 463,269.8 463.4,273.3 463.3,278.3 462.5,287.8 461.8,291.8 460.7,295.3 459,298.7 458,300.1 457.2,300.8 456,301.7 454.5,302.5 452,302.9 449.5,302.5 447,301 445.4,299.3 443.5,295.8 442.4,292.3 441.7,288.8 440.6,275.8 440.7,272.3 441.1,268.8 441.9,265.8 443,263.3 444.3,261.3 446,259.4 448,258.1 450.6,257.3Z"/>
<path fill-rule="evenodd" fill="#990000" d="M390.2,249.8 398.5,249.8 398.6,250.3 398.6,251.3 398.2,252.8 396.8,255.8 396.3,257.3 395.2,265.8 394.1,270.8 393.5,272.6 393,273.5 392.5,273.8 392,273.4 391.7,271.3 391.4,265.8 391.5,257.3 391.2,255.8 390.3,252.8 390.2,249.8ZM505.5,249.8 513.8,249.8 513.7,252.8 512.8,255.8 512.5,257.3 512.6,265.8 512.3,271.3 512,273.4 511.5,273.8 511,273.5 510.5,272.6 509.5,269.2 508.7,264.8 507.7,257.3 507.2,255.8 505.8,252.8 505.4,251.3 505.5,249.8ZM450.2,259.3 452.5,259.1 454.5,259.5 456.5,260.5 458,261.8 459.5,263.8 460.7,266.3 461.4,268.8 461.8,271.8 461.8,275.3 461.3,279.3 459.6,287.8 458.5,291.8 457.5,293.9 456,295.8 454.5,297 452.5,297.6 450.5,297.4 449,296.6 447.5,295.3 445.9,292.8 445,290.4 444.3,287.3 442.7,279.3 442.2,274.8 442.2,271.8 442.6,268.8 443.3,266.3 444.2,264.3 445.5,262.4 447,260.9 448.5,259.9 450.2,259.3Z"/>
<path fill-rule="evenodd" fill="#bb0000" d="M390.7,249.8 398.1,249.8 398.2,251.3 397.8,252.8 395.3,257.3 394,263 393.5,263.8 393,263.2 392.9,262.8 392.4,256.8 391.1,253.8 390.7,252.3 390.7,249.8ZM505.9,249.8 513.3,249.8 513.3,252.3 512.9,253.8 511.6,256.8 511.1,262.8 511,263.2 510.5,263.8 510,263 508.7,257.3 506.2,252.8 505.8,251.3 505.9,249.8ZM450,260.8 451.5,260.5 453.5,260.6 455.5,261.5 457.2,262.8 458.5,264.4 459.7,266.8 460.3,268.8 460.6,271.3 460.6,274.3 460.1,277.8 459.1,281.3 457.5,286 456.3,288.8 455,290.7 453.5,292 452,292.3 450.5,292 449.5,291.2 448.5,290.1 447.2,287.8 446,284.7 444.4,279.8 443.7,276.8 443.3,273.8 443.4,271.3 443.6,269.3 444.1,267.3 445,265.3 445.9,263.8 447,262.6 448.5,261.5 450,260.8Z"/>
<path fill-rule="evenodd" fill="#dd0000" d="M391.1,249.8 397.8,249.8 397.9,251.3 397.2,253.3 396,255 394.5,256.5 394,256.7 393.5,256.5 393,256 391.6,253.8 391,251.8 391.1,249.8ZM506.2,249.8 512.9,249.8 513,251.8 512.6,253.3 511.5,255.3 510.5,256.5 510,256.7 509,256.1 507.1,253.8 506.2,251.8 506.2,249.8ZM450.7,261.8 452.5,261.7 454,262 455.5,262.8 456.7,263.8 457.9,265.3 458.7,266.8 459.3,268.8 459.7,271.3 459.7,273.8 459.3,276.3 458.5,279 457.5,281.3 456,283.8 454.5,285.6 453,286.6 452,286.8 451,286.6 449.5,285.6 448.5,284.5 447,282.2 446,280.3 445.1,277.8 444.6,275.8 444.3,273.3 444.3,271.3 444.6,269.3 445.1,267.3 445.8,265.8 446.8,264.3 448,263.1 449.5,262.2 450.7,261.8Z"/>
<path fill-rule="evenodd" fill="#ff0000" d="M391.4,249.8 397.5,249.8 397.6,250.8 397.3,252.3 396.5,253.8 395.5,254.9 394.5,255.5 394,255.6 393,255.1 392.5,254.6 391.7,253.3 391.4,252.3 391.3,251.3 391.4,249.8ZM506.5,249.8 512.6,249.8 512.7,251.3 512.5,252.8 512,253.9 511,255.1 510.5,255.5 509.5,255.5 508,254.4 507.1,253.3 506.7,252.3 506.4,250.8 506.5,249.8ZM451.1,262.8 452.5,262.7 454,263.1 455.3,263.8 456.4,264.8 457.5,266.3 458.2,267.8 458.6,269.3 458.9,271.3 458.8,273.3 458.5,275.3 458,277.3 457,279.4 456,280.9 454.5,282.5 453.5,283.1 452,283.4 450.5,283.1 449.5,282.5 448.5,281.5 447.5,280.2 446.5,278.4 445.9,276.8 445.4,274.8 445.1,272.8 445.4,269.3 445.8,267.8 446.5,266.3 447.5,264.9 448.5,264 449.6,263.3 451.1,262.8Z"/>
<path fill-rule="evenodd" fill="#ff2200" d="M391.6,249.8 397.3,249.8 397.4,250.8 397.3,251.8 396.9,252.8 396,254 394.5,255 393.5,254.9 393,254.6 392.3,253.8 391.6,252.3 391.5,251.3 391.6,249.8ZM506.7,249.8 512.4,249.8 512.5,251.3 512.4,252.3 511.7,253.8 511,254.6 510.5,254.9 509.5,255 508,254 507.1,252.8 506.7,251.8 506.6,250.8 506.7,249.8ZM451.1,263.8 452.5,263.7 453.5,263.9 454.5,264.4 455.6,265.3 456.5,266.3 457.3,267.8 457.8,269.3 458.1,271.3 458,273.3 457.8,274.8 457.3,276.3 456.5,278.1 455.5,279.5 454.5,280.4 453.5,281 452,281.3 451,281.2 450,280.8 449,280 448,278.8 447.1,277.3 446.5,275.8 445.9,272.8 446.1,269.8 446.5,268.3 447.2,266.8 448,265.7 449,264.7 450,264.1 451.1,263.8Z"/>
<path fill-rule="evenodd" fill="#ff4400" d="M391.8,249.8 397.1,249.8 397.2,250.8 397,251.8 396.6,252.8 396,253.6 395.5,254.1 394.5,254.6 393.5,254.5 393,254.1 392.3,253.3 391.9,252.3 391.7,251.3 391.8,249.8ZM506.9,249.8 512.2,249.8 512.3,251.3 512.1,252.3 511.7,253.3 511,254.1 510.5,254.5 509.5,254.6 508.5,254.1 508,253.6 507.4,252.8 507,251.8 506.8,250.8 506.9,249.8ZM451,264.8 452,264.7 453,264.8 454,265.2 455,265.9 455.8,266.8 456.5,268 457,269.3 457.3,270.8 457.1,273.8 456.7,275.3 456.1,276.8 454.5,278.7 453.5,279.4 452.5,279.7 451.5,279.7 450.5,279.4 449.5,278.7 448.6,277.8 447.3,275.3 446.7,272.8 446.8,270.3 447.6,267.8 449,265.9 450,265.2 451,264.8Z"/>
<path fill-rule="evenodd" fill="#ff6600" d="M392,250.3 392.1,249.8 396.9,249.8 397,250.8 396.8,251.8 396.4,252.8 395.5,253.8 394.5,254.2 393.5,254.1 393,253.8 392.3,252.8 392,251.8 392,250.3ZM507.1,249.8 511.9,249.8 512,251.8 511.7,252.8 511,253.8 510.5,254.1 509.5,254.2 509,254.1 508,253.3 507.2,251.8 507,250.8 507.1,249.8ZM450.9,265.8 452,265.6 453,265.8 454.5,266.6 455.8,268.3 456.5,270.8 456.4,273.3 455.5,275.8 454.9,276.8 454,277.6 452.5,278.3 451,278.2 449.5,277.2 448.2,275.3 447.5,272.8 447.6,270.3 448.2,268.3 449.5,266.6 450.9,265.8Z"/>
<path fill-rule="evenodd" fill="#ff8800" d="M392.2,249.8 396.7,249.8 396.8,251.3 396,253 395.5,253.5 394.5,253.9 393.5,253.8 393,253.4 392.5,252.7 392.2,251.8 392.2,249.8ZM507.3,249.8 511.8,249.8 511.8,251.8 511.5,252.7 511,253.4 510.5,253.8 509.5,253.9 508.3,253.3 507.4,251.8 507.2,250.8 507.3,249.8ZM451.2,266.8 452.5,266.7 454,267.4 455.1,268.8 455.7,270.8 455.7,272.8 455,274.8 454,276.1 452.5,276.9 451,276.8 450,276.1 449,274.8 448.3,272.8 448.3,270.8 448.9,268.8 450,267.4 451.2,266.8Z"/>
<path fill-rule="evenodd" fill="#ffaa00" d="M392.4,249.8 396.5,249.8 396.6,250.8 396.4,251.8 395.5,253.2 395,253.5 394,253.7 393,253.1 392.4,251.8 392.4,249.8ZM507.4,250.3 507.5,249.8 511.6,249.8 511.7,251.3 511.2,252.8 510.5,253.5 510,253.7 509,253.5 507.8,252.3 507.4,251.3 507.4,250.3ZM450.7,268.3 452,267.8 453,268.1 454,269 454.6,270.3 454.8,271.8 454.5,273.4 453.6,274.8 452.5,275.5 451.5,275.5 450.5,274.9 449.7,273.8 449.3,272.8 449.2,271.3 449.4,270.3 450,269 450.7,268.3Z"/>
<path fill-rule="evenodd" fill="#ffcc00" d="M392.6,249.8 396.3,249.8 396.4,251.3 396,252.3 395.5,252.9 395,253.3 394,253.4 393.1,252.8 392.5,251.3 392.6,249.8ZM507.7,249.8 511.4,249.8 511.5,251.3 510.9,252.8 510,253.4 509,253.3 508.5,252.9 508,252.3 507.6,251.3 507.7,249.8ZM451.2,269.8 452,269.5 452.5,269.6 453,269.9 453.5,270.8 453.5,272.3 453,273.3 452.5,273.6 451.5,273.6 451,273.3 450.5,272.3 450.5,270.8 451.2,269.8Z"/>
<path fill-rule="evenodd" fill="#ffee00" d="M392.8,249.8 396.1,249.8 396.2,251.3 395.5,252.6 394.5,253.2 394,253.2 393.4,252.8 393,252.3 392.7,251.3 392.8,249.8ZM507.9,249.8 511.2,249.8 511.4,250.8 511.2,251.8 510.5,252.9 509.5,253.2 508.5,252.6 507.8,251.3 507.9,249.8Z"/>
<path fill-rule="evenodd" fill="#ffff19" d="M392.9,250.3 393,249.8 395.9,249.8 396.1,250.8 395.9,251.8 395,252.8 394.5,252.9 393.8,252.8 393.2,252.3 392.9,251.8 392.9,250.3ZM507.9,250.3 508.1,249.8 511,249.8 511.2,251.3 510.8,252.3 510,252.9 509,252.8 508.1,251.8 507.9,250.3Z"/>
<path fill-rule="evenodd" fill="#ffff4c" d="M393.2,249.8 395.7,249.8 395.9,250.8 395.9,251.3 395.5,252 395,252.5 394,252.6 393.5,252.3 393,251.3 393.2,249.8ZM508.3,249.8 510.8,249.8 511,251.3 510.5,252.3 510,252.6 509.5,252.7 508.5,252 508.1,250.8 508.3,249.8Z"/>
<path fill-rule="evenodd" fill="#ffff7f" d="M393.4,249.8 395.5,249.8 395.7,250.8 395.7,251.3 395,252.2 394.5,252.4 394,252.4 393.5,252 393.2,250.8 393.4,249.8ZM508.3,250.3 508.5,249.8 510.6,249.8 510.8,250.8 510.5,252 510,252.4 509.5,252.4 509,252.2 508.3,251.3 508.3,250.3Z"/>
<path fill-rule="evenodd" fill="#ffffb2" d="M393.5,250.3 393.8,249.8 395.2,249.8 395.5,250.8 395,251.9 394.5,252.2 394,252.1 393.7,251.8 393.4,251.3 393.5,250.3ZM508.8,249.8 510.2,249.8 510.5,250.2 510.6,251.3 510,252.1 509.5,252.2 509,251.9 508.6,251.3 508.5,250.5 508.8,249.8Z"/>
<path fill-rule="evenodd" fill="#ffffe5" d="M393.8,250.3 394.3,249.8 395,250 395.3,250.8 395,251.5 394.5,251.9 394,251.7 393.7,251.3 393.8,250.3ZM508.8,250.3 509.3,249.8 510,249.9 510.4,250.8 510,251.7 509.5,251.9 509,251.5 508.7,250.8 508.8,250.3Z"/>
<path fill-rule="evenodd" fill="#ffffff" d="M394.2,250.3 394.5,250.2 394.7,250.3 395,250.8 394.5,251.4 394,251.1 394,250.6 394.2,250.3ZM509.3,250.3 509.5,250.2 509.8,250.3 510,250.8 509.8,251.3 509.5,251.4 509,250.8 509.3,250.3Z"/>
</g>
<g clip-path="url(#cli)" fill="none" stroke="#fff" stroke-width="0.75" stroke-opacity="0.9">
<path d="M382.5,288.4 386.2,249.8M384.1,326.4 390.9,249.8M389.3,326.4 393.8,274.3 395.6,249.8M395.2,326.4 398.3,284 400.3,249.8M401.2,326.4 403.5,283.5 405,249.8M407.1,326.4 409.7,249.8M412.7,326.4 414.4,249.8M418.2,326.4 419.1,249.8M423.5,326.4 423.8,249.8M428.5,326.4 428.5,249.8M433.2,326.4 433.3,272.9 433.2,267.3 432.7,258.2 433.1,249.8M438,326.4 438.3,313.8 439,293.2 438.9,281.6 438.3,269.7 437.8,267.3 436.2,261.7 435.8,258.2 436.2,255 437.5,249.8M456,256 455.3,256.6 455,257.3 454.8,258.2 455,259.2 455.3,259.9 456,260.5 456.7,260.7 457.8,260.5 458.6,259.9 459.1,259.2 459.4,258.5 459.3,257.5 458.8,256.7 457.8,256 456.7,255.8 456,256M442.8,326.4 443.4,315.2 445.2,294.2 445.3,287.2 445,280.2 444.3,273.2 443.7,270.1 442.7,268 439.2,262.7 438.4,260.6 438.1,258.5 438.2,256.4 438.7,254.7 441.3,249.8M455.3,253.9 454.3,254.6 453.5,256.1 453.3,258.2 453.5,260.3 454.1,261.7 455,262.4 456,262.7 457.4,262.5 459.2,261.7 460.3,260.6 461,259.2 461.1,257.5 460.3,255.7 458.8,254.5 457.1,253.8 455.3,253.9M447.6,326.4 449.1,293.5 449,282 448.5,271.8 448.2,269.7 447.5,268.3 446.7,267.3 443.1,264.5 441.4,262.7 440.3,260.6 439.8,258.5 440,256.4 441,254.3 442.4,252.5 445.1,249.8M448.8,251.2 451.5,250.9 451.8,251 451.9,251.2 452,264.1 451.8,265.2 450.1,265.2 448,264.8 446.2,264.2 444.8,263.6 443.7,262.7 442.6,261.7 441.9,260.6 441.4,259.2 441.4,257.8 441.6,256.8 442.2,255.4 443.1,254.2 444.1,253.3 445.5,252.4 446.9,251.7 448.8,251.2M452,326.4 452.1,265.5 452.5,265.3 455,265.1 456.7,264.6 458.5,264 459.9,263.1 461.1,262 461.9,261 462.5,259.6 462.7,258.2 462.5,256.8 462,255.6 461.1,254.3 459.9,253.2 458.5,252.3 456.7,251.6 452.2,250.7 452,249.8M446.2,254 447.6,253.7 449,254 449.8,254.7 450.5,256.1 450.7,258.2 450.5,260.3 449.9,261.7 448.7,262.5 446.9,262.6 445.2,261.9 443.8,260.7 443,259.2 442.9,257.5 443.5,256.1 444.8,254.7 446.2,254M456.5,326.4 454.9,293.5 455,282.3 455.5,271.8 455.9,269.7 456.5,268.3 457.4,267.3 460.9,264.5 462.6,262.7 463.7,260.6 464.2,258.5 464,256.4 463.1,254.3 461.6,252.4 458.9,249.8M446,256.1 446.9,255.8 448,256 448.6,256.4 449,257.1 449.2,258.2 449,259.2 448.6,259.9 448,260.5 447.3,260.7 446.2,260.5 445.4,259.9 444.9,259.2 444.7,258.5 444.8,257.5 445.2,256.8 446,256.1M461.2,326.4 460.6,315.2 458.8,293.9 458.7,287.2 459,280.2 459.7,273.2 460.3,270.1 461.3,268 464.8,262.7 465.6,260.6 465.9,258.5 465.8,256.8 465.3,254.7 462.7,249.8M466,326.4 465.8,313.8 465,293.2 465.1,281.6 465.7,269.7 466.2,267.3 467.8,261.7 468.2,258.2 467.9,255 466.6,249.8M470.8,326.4 470.7,272.9 470.8,267.3 471.3,258.2 470.9,249.8M475.5,326.4 475.5,249.8M480.6,326.4 480.2,249.8M485.9,326.4 484.9,249.8M491.3,326.4 489.6,249.8M497,326.4 494.3,249.8M502.8,326.4 500.5,283.4 499,249.8M508.8,326.4 505.8,284.1 503.7,249.8M514.7,326.4 510.3,274.4 508.4,249.8M520,326.4 513.1,249.8M521.8,291.2 517.8,249.8"/>
</g>
<g clip-path="url(#cli)" fill="#fff" fill-opacity="0.9"><path d="M391.7,254.1L390.7,251L393.3,251.3ZM390.6,266.2L389.6,263.1L392.2,263.4ZM389.7,277.3L388.6,274.2L391.2,274.5ZM388.7,288.4L387.7,285.3L390.2,285.6ZM387.8,298.4L386.8,295.3L389.4,295.6ZM386.8,309.5L385.8,306.4L388.4,306.7ZM385.9,320.6L384.8,317.5L387.4,317.8ZM412.9,254.1L411.6,251.1L414.2,251.2ZM412.2,266.2L410.9,263.2L413.5,263.3ZM411.5,277.3L410.3,274.3L412.9,274.4ZM410.9,288.4L409.7,285.4L412.3,285.5ZM410.3,298.4L409.1,295.4L411.7,295.5ZM409.7,309.5L408.5,306.5L411.1,306.6ZM409,320.6L407.8,317.6L410.4,317.7ZM436.3,254.1L435.8,250.9L438.3,251.5ZM437.2,266.2L435.1,263.7L437.6,262.9ZM436.7,277.3L435.4,274.4L438,274.3ZM436.7,288.4L435.4,285.5L438,285.4ZM436.7,298.4L435.4,295.4L438,295.5ZM436.7,309.5L435.4,306.5L438,306.6ZM436.7,320.6L435.4,317.6L438,317.7ZM452,254.2L450.7,251.2L453.3,251.2ZM452,266.2L450.7,263.2L453.3,263.2ZM452,277.3L450.7,274.3L453.3,274.3ZM452,288.4L450.7,285.4L453.3,285.4ZM452,298.4L450.7,295.4L453.3,295.4ZM452,309.5L450.7,306.5L453.3,306.5ZM452,320.6L450.7,317.6L453.3,317.6ZM475.6,254.1L474.3,251.2L476.9,251.1ZM475.6,266.2L474.3,263.2L476.9,263.3ZM475.6,277.3L474.3,274.3L476.9,274.4ZM475.6,288.4L474.3,285.4L476.9,285.5ZM475.6,298.4L474.3,295.5L476.9,295.4ZM475.6,309.5L474.3,306.6L476.9,306.5ZM475.6,320.6L474.3,317.7L476.9,317.6ZM498.2,254.1L496.8,251.2L499.4,251.1ZM499,266.2L497.6,263.3L500.2,263.2ZM499.8,277.3L498.3,274.4L500.9,274.3ZM500.5,288.4L499.1,285.5L501.7,285.4ZM501.2,298.4L499.7,295.5L502.3,295.4ZM501.9,309.5L500.5,306.6L503.1,306.5ZM502.7,320.6L501.2,317.7L503.8,317.6ZM515.3,254.1L513.7,251.3L516.3,251ZM516.4,266.2L514.9,263.4L517.4,263.1ZM517.5,277.3L515.9,274.5L518.5,274.2ZM518.5,288.4L516.9,285.6L519.5,285.3ZM519.4,298.4L517.8,295.6L520.4,295.3ZM520.4,309.5L518.9,306.7L521.4,306.4ZM521.5,320.6L519.9,317.8L522.5,317.5Z"/></g>
<linearGradient id="cgi" x1="0" y1="0" x2="0" y2="1"><stop offset="0.000" stop-color="#ffffff"/><stop offset="0.025" stop-color="#ffffe5"/><stop offset="0.050" stop-color="#ffffcc"/><stop offset="0.075" stop-color="#ffffb2"/><stop offset="0.100" stop-color="#ffff99"/><stop offset="0.125" stop-color="#ffff7f"/><stop offset="0.150" stop-color="#ffff66"/><stop offset="0.175" stop-color="#ffff4c"/><stop offset="0.200" stop-color="#ffff33"/><stop offset="0.225" stop-color="#ffff19"/><stop offset="0.250" stop-color="#ffff00"/><stop offset="0.275" stop-color="#ffee00"/><stop offset="0.300" stop-color="#ffdd00"/><stop offset="0.325" stop-color="#ffcc00"/><stop offset="0.350" stop-color="#ffbb00"/><stop offset="0.375" stop-color="#ffaa00"/><stop offset="0.400" stop-color="#ff9900"/><stop offset="0.425" stop-color="#ff8800"/><stop offset="0.450" stop-color="#ff7700"/><stop offset="0.475" stop-color="#ff6600"/><stop offset="0.500" stop-color="#ff5500"/><stop offset="0.525" stop-color="#ff4400"/><stop offset="0.550" stop-color="#ff3300"/><stop offset="0.575" stop-color="#ff2200"/><stop offset="0.600" stop-color="#ff1100"/><stop offset="0.625" stop-color="#ff0000"/><stop offset="0.650" stop-color="#ee0000"/><stop offset="0.675" stop-color="#dd0000"/><stop offset="0.700" stop-color="#cc0000"/><stop offset="0.725" stop-color="#bb0000"/><stop offset="0.750" stop-color="#aa0000"/><stop offset="0.775" stop-color="#990000"/><stop offset="0.800" stop-color="#880000"/><stop offset="0.825" stop-color="#770000"/><stop offset="0.850" stop-color="#660000"/><stop offset="0.875" stop-color="#550000"/><stop offset="0.900" stop-color="#440000"/><stop offset="0.925" stop-color="#330000"/><stop offset="0.950" stop-color="#220000"/><stop offset="0.975" stop-color="#110000"/><stop offset="1.000" stop-color="#000000"/></linearGradient><rect x="522.8" y="264.2" width="3.4" height="61.3" fill="url(#cgi)" stroke="#9a9a9a" stroke-width="0.5"/>
<path d="M383.5,325.5V250.8M383.5,250.8H520.8V325.5" fill="none" stroke="#b4b4b4" stroke-width="0.8"/>
<path d="M383.5,250.8h1.4M383.5,275.7h1.4M383.5,300.6h1.4M383.5,325.5h1.4M390.9,250.8v1.4M421.4,250.8v1.4M452,250.8v1.4M482.6,250.8v1.4M513.1,250.8v1.4" stroke="#777" stroke-width="0.6"/>
<text class="t" x="380.2" y="253.4" font-size="7.5" text-anchor="end">0</text>
<text class="t" x="380.2" y="278.3" font-size="7.5" text-anchor="end">0.2</text>
<text class="t" x="380.2" y="303.2" font-size="7.5" text-anchor="end">0.4</text>
<text class="t" x="380.2" y="328.1" font-size="7.5" text-anchor="end">0.6</text>
<text class="t" x="390.9" y="336.6" font-size="7.5" text-anchor="middle">-0.5</text>
<text class="t" x="421.4" y="336.6" font-size="7.5" text-anchor="middle">-0.25</text>
<text class="t" x="452" y="336.6" font-size="7.5" text-anchor="middle">0</text>
<text class="t" x="482.6" y="336.6" font-size="7.5" text-anchor="middle">0.25</text>
<text class="t" x="513.1" y="336.6" font-size="7.5" text-anchor="middle">0.5</text>
<text class="l" x="452" y="345.3" font-size="8.5" text-anchor="middle"><tspan font-style="italic">x</tspan>/<tspan font-style="italic">D</tspan></text>
<text class="l" transform="translate(368.5,288.1) rotate(-90)" font-size="8.5" text-anchor="middle" x="0" y="0"><tspan font-style="italic">z</tspan>/<tspan font-style="italic">D</tspan></text>
<text class="p" x="452" y="245.3" font-size="11" text-anchor="middle" font-weight="bold">(i)</text>
<text class="l" x="522.3" y="258.2" font-size="10" text-anchor="start"><tspan font-style="italic">k</tspan>/<tspan font-style="italic">V</tspan><tspan font-size="6.5" dy="2.4">0</tspan><tspan font-size="6.5" dy="-6.2" dx="0.3">2</tspan></text>
<text class="t" x="529" y="267.4" font-size="7.5" text-anchor="start">0.2</text>
<text class="t" x="529" y="282.2" font-size="7.5" text-anchor="start">0.15</text>
<text class="t" x="529" y="296.6" font-size="7.5" text-anchor="start">0.1</text>
<text class="t" x="529" y="311.3" font-size="7.5" text-anchor="start">0.05</text>
<text class="t" x="529" y="326" font-size="7.5" text-anchor="start">0</text>
<text class="r" x="5.6" y="13.1" font-size="12" text-anchor="start">0.3<tspan font-style="italic">Q</tspan><tspan font-size="7.5" dy="1.6">c</tspan></text>
<text class="r" x="5.4" y="129" font-size="12" text-anchor="start">0.5<tspan font-style="italic">Q</tspan><tspan font-size="7.5" dy="1.6">c</tspan></text>
<text class="r" x="5.6" y="246" font-size="12" text-anchor="start"><tspan font-style="italic">Q</tspan><tspan font-size="7.5" dy="1.6">c</tspan></text>
</svg>
</body></html>
